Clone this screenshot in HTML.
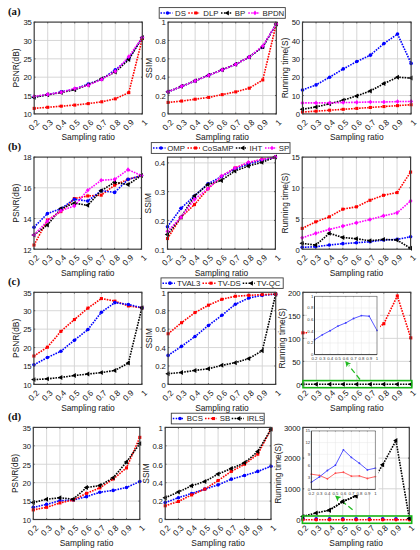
<!DOCTYPE html><html><head><meta charset="utf-8"><style>html,body{margin:0;padding:0;background:#fff;width:420px;height:550px;overflow:hidden}svg{display:block}text{font-family:"Liberation Sans", sans-serif}</style></head><body>
<svg width="420" height="550" viewBox="0 0 420 550">
<rect width="420" height="550" fill="#fff"/>
<text x="8.0" y="14.9" style="font-family:'Liberation Serif',serif;font-weight:bold" font-size="10.8" fill="#111">(a)</text>
<rect x="34.2" y="22.1" width="108.10" height="91.80" fill="#fff"/>
<line x1="47.71" y1="22.1" x2="47.71" y2="113.9" stroke="#d3d3d3" stroke-width="0.9"/>
<line x1="61.23" y1="22.1" x2="61.23" y2="113.9" stroke="#d3d3d3" stroke-width="0.9"/>
<line x1="74.74" y1="22.1" x2="74.74" y2="113.9" stroke="#d3d3d3" stroke-width="0.9"/>
<line x1="88.25" y1="22.1" x2="88.25" y2="113.9" stroke="#d3d3d3" stroke-width="0.9"/>
<line x1="101.76" y1="22.1" x2="101.76" y2="113.9" stroke="#d3d3d3" stroke-width="0.9"/>
<line x1="115.28" y1="22.1" x2="115.28" y2="113.9" stroke="#d3d3d3" stroke-width="0.9"/>
<line x1="128.79" y1="22.1" x2="128.79" y2="113.9" stroke="#d3d3d3" stroke-width="0.9"/>
<line x1="34.2" y1="95.54" x2="142.3" y2="95.54" stroke="#d3d3d3" stroke-width="0.9"/>
<line x1="34.2" y1="77.18" x2="142.3" y2="77.18" stroke="#d3d3d3" stroke-width="0.9"/>
<line x1="34.2" y1="58.82" x2="142.3" y2="58.82" stroke="#d3d3d3" stroke-width="0.9"/>
<line x1="34.2" y1="40.46" x2="142.3" y2="40.46" stroke="#d3d3d3" stroke-width="0.9"/>
<clipPath id="c34_22"><rect x="31.200000000000003" y="19.1" width="114.10" height="97.80"/></clipPath>
<g clip-path="url(#c34_22)">
<polyline points="34.20,97.01 47.71,94.44 61.23,91.87 74.74,88.93 88.25,84.16 101.76,79.02 115.28,69.84 128.79,58.82 142.30,37.52" fill="none" stroke="#0000ff" stroke-width="1.6" stroke-dasharray="1.6 1.1"/>
<polyline points="34.20,108.39 47.71,107.29 61.23,106.19 74.74,105.09 88.25,103.62 101.76,101.78 115.28,98.84 128.79,92.60 142.30,38.62" fill="none" stroke="#ff0000" stroke-width="1.6" stroke-dasharray="1.6 1.1"/>
<polyline points="34.20,97.38 47.71,94.81 61.23,92.60 74.74,89.66 88.25,84.89 101.76,78.65 115.28,72.04 128.79,59.55 142.30,37.52" fill="none" stroke="#000000" stroke-width="1.6" stroke-dasharray="1.6 1.1"/>
<polyline points="34.20,96.27 47.71,94.44 61.23,92.24 74.74,88.56 88.25,85.26 101.76,79.38 115.28,71.30 128.79,56.62 142.30,37.52" fill="none" stroke="#ff00ff" stroke-width="1.6" stroke-dasharray="1.6 1.1"/>
<circle cx="34.20" cy="97.01" r="1.80" fill="#0000ff"/>
<circle cx="47.71" cy="94.44" r="1.80" fill="#0000ff"/>
<circle cx="61.23" cy="91.87" r="1.80" fill="#0000ff"/>
<circle cx="74.74" cy="88.93" r="1.80" fill="#0000ff"/>
<circle cx="88.25" cy="84.16" r="1.80" fill="#0000ff"/>
<circle cx="101.76" cy="79.02" r="1.80" fill="#0000ff"/>
<circle cx="115.28" cy="69.84" r="1.80" fill="#0000ff"/>
<circle cx="128.79" cy="58.82" r="1.80" fill="#0000ff"/>
<circle cx="142.30" cy="37.52" r="1.80" fill="#0000ff"/>
<rect x="32.67" y="106.86" width="3.06" height="3.06" fill="#ff0000"/>
<rect x="46.18" y="105.76" width="3.06" height="3.06" fill="#ff0000"/>
<rect x="59.70" y="104.66" width="3.06" height="3.06" fill="#ff0000"/>
<rect x="73.21" y="103.56" width="3.06" height="3.06" fill="#ff0000"/>
<rect x="86.72" y="102.09" width="3.06" height="3.06" fill="#ff0000"/>
<rect x="100.23" y="100.25" width="3.06" height="3.06" fill="#ff0000"/>
<rect x="113.75" y="97.31" width="3.06" height="3.06" fill="#ff0000"/>
<rect x="127.26" y="91.07" width="3.06" height="3.06" fill="#ff0000"/>
<rect x="140.77" y="37.09" width="3.06" height="3.06" fill="#ff0000"/>
<path d="M31.39,97.38L35.60,94.89L35.60,99.86Z" fill="#000000"/>
<path d="M44.90,94.81L49.12,92.32L49.12,97.29Z" fill="#000000"/>
<path d="M58.42,92.60L62.63,90.12L62.63,95.09Z" fill="#000000"/>
<path d="M71.93,89.66L76.14,87.18L76.14,92.15Z" fill="#000000"/>
<path d="M85.44,84.89L89.65,82.41L89.65,87.38Z" fill="#000000"/>
<path d="M98.95,78.65L103.17,76.16L103.17,81.13Z" fill="#000000"/>
<path d="M112.47,72.04L116.68,69.56L116.68,74.52Z" fill="#000000"/>
<path d="M125.98,59.55L130.19,57.07L130.19,62.04Z" fill="#000000"/>
<path d="M139.49,37.52L143.70,35.04L143.70,40.01Z" fill="#000000"/>
<path d="M34.20,93.93L36.18,96.27L34.20,98.61L32.22,96.27Z" fill="#ff00ff"/>
<path d="M47.71,92.10L49.69,94.44L47.71,96.78L45.73,94.44Z" fill="#ff00ff"/>
<path d="M61.23,89.90L63.21,92.24L61.23,94.58L59.25,92.24Z" fill="#ff00ff"/>
<path d="M74.74,86.22L76.72,88.56L74.74,90.90L72.76,88.56Z" fill="#ff00ff"/>
<path d="M88.25,82.92L90.23,85.26L88.25,87.60L86.27,85.26Z" fill="#ff00ff"/>
<path d="M101.76,77.04L103.74,79.38L101.76,81.72L99.78,79.38Z" fill="#ff00ff"/>
<path d="M115.28,68.96L117.26,71.30L115.28,73.64L113.30,71.30Z" fill="#ff00ff"/>
<path d="M128.79,54.28L130.77,56.62L128.79,58.96L126.81,56.62Z" fill="#ff00ff"/>
<path d="M142.30,35.18L144.28,37.52L142.30,39.86L140.32,37.52Z" fill="#ff00ff"/>
</g>
<rect x="34.2" y="22.1" width="108.10" height="91.80" fill="none" stroke="#3c3c3c" stroke-width="1.2"/>
<line x1="34.20" y1="113.9" x2="34.20" y2="112.60000000000001" stroke="#3c3c3c" stroke-width="0.8"/>
<line x1="34.20" y1="22.1" x2="34.20" y2="23.400000000000002" stroke="#3c3c3c" stroke-width="0.8"/>
<line x1="47.71" y1="113.9" x2="47.71" y2="112.60000000000001" stroke="#3c3c3c" stroke-width="0.8"/>
<line x1="47.71" y1="22.1" x2="47.71" y2="23.400000000000002" stroke="#3c3c3c" stroke-width="0.8"/>
<line x1="61.23" y1="113.9" x2="61.23" y2="112.60000000000001" stroke="#3c3c3c" stroke-width="0.8"/>
<line x1="61.23" y1="22.1" x2="61.23" y2="23.400000000000002" stroke="#3c3c3c" stroke-width="0.8"/>
<line x1="74.74" y1="113.9" x2="74.74" y2="112.60000000000001" stroke="#3c3c3c" stroke-width="0.8"/>
<line x1="74.74" y1="22.1" x2="74.74" y2="23.400000000000002" stroke="#3c3c3c" stroke-width="0.8"/>
<line x1="88.25" y1="113.9" x2="88.25" y2="112.60000000000001" stroke="#3c3c3c" stroke-width="0.8"/>
<line x1="88.25" y1="22.1" x2="88.25" y2="23.400000000000002" stroke="#3c3c3c" stroke-width="0.8"/>
<line x1="101.76" y1="113.9" x2="101.76" y2="112.60000000000001" stroke="#3c3c3c" stroke-width="0.8"/>
<line x1="101.76" y1="22.1" x2="101.76" y2="23.400000000000002" stroke="#3c3c3c" stroke-width="0.8"/>
<line x1="115.28" y1="113.9" x2="115.28" y2="112.60000000000001" stroke="#3c3c3c" stroke-width="0.8"/>
<line x1="115.28" y1="22.1" x2="115.28" y2="23.400000000000002" stroke="#3c3c3c" stroke-width="0.8"/>
<line x1="128.79" y1="113.9" x2="128.79" y2="112.60000000000001" stroke="#3c3c3c" stroke-width="0.8"/>
<line x1="128.79" y1="22.1" x2="128.79" y2="23.400000000000002" stroke="#3c3c3c" stroke-width="0.8"/>
<line x1="142.30" y1="113.9" x2="142.30" y2="112.60000000000001" stroke="#3c3c3c" stroke-width="0.8"/>
<line x1="142.30" y1="22.1" x2="142.30" y2="23.400000000000002" stroke="#3c3c3c" stroke-width="0.8"/>
<line x1="34.2" y1="113.90" x2="35.5" y2="113.90" stroke="#3c3c3c" stroke-width="0.8"/>
<line x1="142.3" y1="113.90" x2="141.0" y2="113.90" stroke="#3c3c3c" stroke-width="0.8"/>
<line x1="34.2" y1="95.54" x2="35.5" y2="95.54" stroke="#3c3c3c" stroke-width="0.8"/>
<line x1="142.3" y1="95.54" x2="141.0" y2="95.54" stroke="#3c3c3c" stroke-width="0.8"/>
<line x1="34.2" y1="77.18" x2="35.5" y2="77.18" stroke="#3c3c3c" stroke-width="0.8"/>
<line x1="142.3" y1="77.18" x2="141.0" y2="77.18" stroke="#3c3c3c" stroke-width="0.8"/>
<line x1="34.2" y1="58.82" x2="35.5" y2="58.82" stroke="#3c3c3c" stroke-width="0.8"/>
<line x1="142.3" y1="58.82" x2="141.0" y2="58.82" stroke="#3c3c3c" stroke-width="0.8"/>
<line x1="34.2" y1="40.46" x2="35.5" y2="40.46" stroke="#3c3c3c" stroke-width="0.8"/>
<line x1="142.3" y1="40.46" x2="141.0" y2="40.46" stroke="#3c3c3c" stroke-width="0.8"/>
<line x1="34.2" y1="22.10" x2="35.5" y2="22.10" stroke="#3c3c3c" stroke-width="0.8"/>
<line x1="142.3" y1="22.10" x2="141.0" y2="22.10" stroke="#3c3c3c" stroke-width="0.8"/>
<text x="31.70" y="117.20" text-anchor="end" font-size="7.7" letter-spacing="-0.15" fill="#161616">10</text>
<text x="31.70" y="98.84" text-anchor="end" font-size="7.7" letter-spacing="-0.15" fill="#161616">15</text>
<text x="31.70" y="80.48" text-anchor="end" font-size="7.7" letter-spacing="-0.15" fill="#161616">20</text>
<text x="31.70" y="62.12" text-anchor="end" font-size="7.7" letter-spacing="-0.15" fill="#161616">25</text>
<text x="31.70" y="43.76" text-anchor="end" font-size="7.7" letter-spacing="-0.15" fill="#161616">30</text>
<text x="31.70" y="25.40" text-anchor="end" font-size="7.7" letter-spacing="-0.15" fill="#161616">35</text>
<text transform="translate(40.00,122.90) rotate(-45)" text-anchor="end" font-size="8.2" fill="#161616">0.2</text>
<text transform="translate(53.51,122.90) rotate(-45)" text-anchor="end" font-size="8.2" fill="#161616">0.3</text>
<text transform="translate(67.03,122.90) rotate(-45)" text-anchor="end" font-size="8.2" fill="#161616">0.4</text>
<text transform="translate(80.54,122.90) rotate(-45)" text-anchor="end" font-size="8.2" fill="#161616">0.5</text>
<text transform="translate(94.05,122.90) rotate(-45)" text-anchor="end" font-size="8.2" fill="#161616">0.6</text>
<text transform="translate(107.56,122.90) rotate(-45)" text-anchor="end" font-size="8.2" fill="#161616">0.7</text>
<text transform="translate(121.08,122.90) rotate(-45)" text-anchor="end" font-size="8.2" fill="#161616">0.8</text>
<text transform="translate(134.59,122.90) rotate(-45)" text-anchor="end" font-size="8.2" fill="#161616">0.9</text>
<text transform="translate(148.10,122.90) rotate(-45)" text-anchor="end" font-size="8.2" fill="#161616">1</text>
<text x="88.25" y="140.30" text-anchor="middle" font-size="8.4" fill="#161616">Sampling ratio</text>
<text transform="translate(19.10,68.00) rotate(-90)" text-anchor="middle" font-size="8.4" fill="#161616">PSNR(dB)</text>
<rect x="168.1" y="22.1" width="108.20" height="91.80" fill="#fff"/>
<line x1="181.62" y1="22.1" x2="181.62" y2="113.9" stroke="#d3d3d3" stroke-width="0.9"/>
<line x1="195.15" y1="22.1" x2="195.15" y2="113.9" stroke="#d3d3d3" stroke-width="0.9"/>
<line x1="208.68" y1="22.1" x2="208.68" y2="113.9" stroke="#d3d3d3" stroke-width="0.9"/>
<line x1="222.20" y1="22.1" x2="222.20" y2="113.9" stroke="#d3d3d3" stroke-width="0.9"/>
<line x1="235.72" y1="22.1" x2="235.72" y2="113.9" stroke="#d3d3d3" stroke-width="0.9"/>
<line x1="249.25" y1="22.1" x2="249.25" y2="113.9" stroke="#d3d3d3" stroke-width="0.9"/>
<line x1="262.77" y1="22.1" x2="262.77" y2="113.9" stroke="#d3d3d3" stroke-width="0.9"/>
<line x1="168.1" y1="95.54" x2="276.3" y2="95.54" stroke="#d3d3d3" stroke-width="0.9"/>
<line x1="168.1" y1="77.18" x2="276.3" y2="77.18" stroke="#d3d3d3" stroke-width="0.9"/>
<line x1="168.1" y1="58.82" x2="276.3" y2="58.82" stroke="#d3d3d3" stroke-width="0.9"/>
<line x1="168.1" y1="40.46" x2="276.3" y2="40.46" stroke="#d3d3d3" stroke-width="0.9"/>
<clipPath id="c168_22"><rect x="165.1" y="19.1" width="114.20" height="97.80"/></clipPath>
<g clip-path="url(#c168_22)">
<polyline points="168.10,91.87 181.62,86.36 195.15,80.85 208.68,75.34 222.20,69.84 235.72,64.33 249.25,56.98 262.77,46.89 276.30,23.94" fill="none" stroke="#0000ff" stroke-width="1.6" stroke-dasharray="1.6 1.1"/>
<polyline points="168.10,102.43 181.62,101.05 195.15,99.21 208.68,97.38 222.20,94.62 235.72,91.87 249.25,88.20 262.77,79.93 276.30,23.94" fill="none" stroke="#ff0000" stroke-width="1.6" stroke-dasharray="1.6 1.1"/>
<polyline points="168.10,91.87 181.62,86.36 195.15,80.85 208.68,75.34 222.20,69.84 235.72,64.33 249.25,56.98 262.77,46.89 276.30,23.94" fill="none" stroke="#000000" stroke-width="1.6" stroke-dasharray="1.6 1.1"/>
<polyline points="168.10,91.87 181.62,86.36 195.15,80.85 208.68,75.34 222.20,69.84 235.72,64.33 249.25,56.98 262.77,45.97 276.30,23.94" fill="none" stroke="#ff00ff" stroke-width="1.6" stroke-dasharray="1.6 1.1"/>
<circle cx="168.10" cy="91.87" r="1.80" fill="#0000ff"/>
<circle cx="181.62" cy="86.36" r="1.80" fill="#0000ff"/>
<circle cx="195.15" cy="80.85" r="1.80" fill="#0000ff"/>
<circle cx="208.68" cy="75.34" r="1.80" fill="#0000ff"/>
<circle cx="222.20" cy="69.84" r="1.80" fill="#0000ff"/>
<circle cx="235.72" cy="64.33" r="1.80" fill="#0000ff"/>
<circle cx="249.25" cy="56.98" r="1.80" fill="#0000ff"/>
<circle cx="262.77" cy="46.89" r="1.80" fill="#0000ff"/>
<circle cx="276.30" cy="23.94" r="1.80" fill="#0000ff"/>
<rect x="166.57" y="100.90" width="3.06" height="3.06" fill="#ff0000"/>
<rect x="180.09" y="99.52" width="3.06" height="3.06" fill="#ff0000"/>
<rect x="193.62" y="97.68" width="3.06" height="3.06" fill="#ff0000"/>
<rect x="207.15" y="95.85" width="3.06" height="3.06" fill="#ff0000"/>
<rect x="220.67" y="93.09" width="3.06" height="3.06" fill="#ff0000"/>
<rect x="234.19" y="90.34" width="3.06" height="3.06" fill="#ff0000"/>
<rect x="247.72" y="86.67" width="3.06" height="3.06" fill="#ff0000"/>
<rect x="261.25" y="78.40" width="3.06" height="3.06" fill="#ff0000"/>
<rect x="274.77" y="22.41" width="3.06" height="3.06" fill="#ff0000"/>
<path d="M165.29,91.87L169.50,89.38L169.50,94.35Z" fill="#000000"/>
<path d="M178.82,86.36L183.03,83.88L183.03,88.84Z" fill="#000000"/>
<path d="M192.34,80.85L196.55,78.37L196.55,83.34Z" fill="#000000"/>
<path d="M205.87,75.34L210.08,72.86L210.08,77.83Z" fill="#000000"/>
<path d="M219.39,69.84L223.60,67.35L223.60,72.32Z" fill="#000000"/>
<path d="M232.92,64.33L237.13,61.84L237.13,66.81Z" fill="#000000"/>
<path d="M246.44,56.98L250.65,54.50L250.65,59.47Z" fill="#000000"/>
<path d="M259.97,46.89L264.18,44.40L264.18,49.37Z" fill="#000000"/>
<path d="M273.49,23.94L277.70,21.45L277.70,26.42Z" fill="#000000"/>
<path d="M168.10,89.53L170.08,91.87L168.10,94.21L166.12,91.87Z" fill="#ff00ff"/>
<path d="M181.62,84.02L183.60,86.36L181.62,88.70L179.65,86.36Z" fill="#ff00ff"/>
<path d="M195.15,78.51L197.13,80.85L195.15,83.19L193.17,80.85Z" fill="#ff00ff"/>
<path d="M208.68,73.00L210.66,75.34L208.68,77.68L206.70,75.34Z" fill="#ff00ff"/>
<path d="M222.20,67.50L224.18,69.84L222.20,72.18L220.22,69.84Z" fill="#ff00ff"/>
<path d="M235.72,61.99L237.70,64.33L235.72,66.67L233.75,64.33Z" fill="#ff00ff"/>
<path d="M249.25,54.64L251.23,56.98L249.25,59.32L247.27,56.98Z" fill="#ff00ff"/>
<path d="M262.77,43.63L264.75,45.97L262.77,48.31L260.79,45.97Z" fill="#ff00ff"/>
<path d="M276.30,21.60L278.28,23.94L276.30,26.28L274.32,23.94Z" fill="#ff00ff"/>
</g>
<rect x="168.1" y="22.1" width="108.20" height="91.80" fill="none" stroke="#3c3c3c" stroke-width="1.2"/>
<line x1="168.10" y1="113.9" x2="168.10" y2="112.60000000000001" stroke="#3c3c3c" stroke-width="0.8"/>
<line x1="168.10" y1="22.1" x2="168.10" y2="23.400000000000002" stroke="#3c3c3c" stroke-width="0.8"/>
<line x1="181.62" y1="113.9" x2="181.62" y2="112.60000000000001" stroke="#3c3c3c" stroke-width="0.8"/>
<line x1="181.62" y1="22.1" x2="181.62" y2="23.400000000000002" stroke="#3c3c3c" stroke-width="0.8"/>
<line x1="195.15" y1="113.9" x2="195.15" y2="112.60000000000001" stroke="#3c3c3c" stroke-width="0.8"/>
<line x1="195.15" y1="22.1" x2="195.15" y2="23.400000000000002" stroke="#3c3c3c" stroke-width="0.8"/>
<line x1="208.68" y1="113.9" x2="208.68" y2="112.60000000000001" stroke="#3c3c3c" stroke-width="0.8"/>
<line x1="208.68" y1="22.1" x2="208.68" y2="23.400000000000002" stroke="#3c3c3c" stroke-width="0.8"/>
<line x1="222.20" y1="113.9" x2="222.20" y2="112.60000000000001" stroke="#3c3c3c" stroke-width="0.8"/>
<line x1="222.20" y1="22.1" x2="222.20" y2="23.400000000000002" stroke="#3c3c3c" stroke-width="0.8"/>
<line x1="235.72" y1="113.9" x2="235.72" y2="112.60000000000001" stroke="#3c3c3c" stroke-width="0.8"/>
<line x1="235.72" y1="22.1" x2="235.72" y2="23.400000000000002" stroke="#3c3c3c" stroke-width="0.8"/>
<line x1="249.25" y1="113.9" x2="249.25" y2="112.60000000000001" stroke="#3c3c3c" stroke-width="0.8"/>
<line x1="249.25" y1="22.1" x2="249.25" y2="23.400000000000002" stroke="#3c3c3c" stroke-width="0.8"/>
<line x1="262.77" y1="113.9" x2="262.77" y2="112.60000000000001" stroke="#3c3c3c" stroke-width="0.8"/>
<line x1="262.77" y1="22.1" x2="262.77" y2="23.400000000000002" stroke="#3c3c3c" stroke-width="0.8"/>
<line x1="276.30" y1="113.9" x2="276.30" y2="112.60000000000001" stroke="#3c3c3c" stroke-width="0.8"/>
<line x1="276.30" y1="22.1" x2="276.30" y2="23.400000000000002" stroke="#3c3c3c" stroke-width="0.8"/>
<line x1="168.1" y1="113.90" x2="169.4" y2="113.90" stroke="#3c3c3c" stroke-width="0.8"/>
<line x1="276.3" y1="113.90" x2="275.0" y2="113.90" stroke="#3c3c3c" stroke-width="0.8"/>
<line x1="168.1" y1="95.54" x2="169.4" y2="95.54" stroke="#3c3c3c" stroke-width="0.8"/>
<line x1="276.3" y1="95.54" x2="275.0" y2="95.54" stroke="#3c3c3c" stroke-width="0.8"/>
<line x1="168.1" y1="77.18" x2="169.4" y2="77.18" stroke="#3c3c3c" stroke-width="0.8"/>
<line x1="276.3" y1="77.18" x2="275.0" y2="77.18" stroke="#3c3c3c" stroke-width="0.8"/>
<line x1="168.1" y1="58.82" x2="169.4" y2="58.82" stroke="#3c3c3c" stroke-width="0.8"/>
<line x1="276.3" y1="58.82" x2="275.0" y2="58.82" stroke="#3c3c3c" stroke-width="0.8"/>
<line x1="168.1" y1="40.46" x2="169.4" y2="40.46" stroke="#3c3c3c" stroke-width="0.8"/>
<line x1="276.3" y1="40.46" x2="275.0" y2="40.46" stroke="#3c3c3c" stroke-width="0.8"/>
<line x1="168.1" y1="22.10" x2="169.4" y2="22.10" stroke="#3c3c3c" stroke-width="0.8"/>
<line x1="276.3" y1="22.10" x2="275.0" y2="22.10" stroke="#3c3c3c" stroke-width="0.8"/>
<text x="165.60" y="117.20" text-anchor="end" font-size="7.7" letter-spacing="-0.15" fill="#161616">0</text>
<text x="165.60" y="98.84" text-anchor="end" font-size="7.7" letter-spacing="-0.15" fill="#161616">0.2</text>
<text x="165.60" y="80.48" text-anchor="end" font-size="7.7" letter-spacing="-0.15" fill="#161616">0.4</text>
<text x="165.60" y="62.12" text-anchor="end" font-size="7.7" letter-spacing="-0.15" fill="#161616">0.6</text>
<text x="165.60" y="43.76" text-anchor="end" font-size="7.7" letter-spacing="-0.15" fill="#161616">0.8</text>
<text x="165.60" y="25.40" text-anchor="end" font-size="7.7" letter-spacing="-0.15" fill="#161616">1</text>
<text transform="translate(173.90,122.90) rotate(-45)" text-anchor="end" font-size="8.2" fill="#161616">0.2</text>
<text transform="translate(187.43,122.90) rotate(-45)" text-anchor="end" font-size="8.2" fill="#161616">0.3</text>
<text transform="translate(200.95,122.90) rotate(-45)" text-anchor="end" font-size="8.2" fill="#161616">0.4</text>
<text transform="translate(214.48,122.90) rotate(-45)" text-anchor="end" font-size="8.2" fill="#161616">0.5</text>
<text transform="translate(228.00,122.90) rotate(-45)" text-anchor="end" font-size="8.2" fill="#161616">0.6</text>
<text transform="translate(241.53,122.90) rotate(-45)" text-anchor="end" font-size="8.2" fill="#161616">0.7</text>
<text transform="translate(255.05,122.90) rotate(-45)" text-anchor="end" font-size="8.2" fill="#161616">0.8</text>
<text transform="translate(268.57,122.90) rotate(-45)" text-anchor="end" font-size="8.2" fill="#161616">0.9</text>
<text transform="translate(282.10,122.90) rotate(-45)" text-anchor="end" font-size="8.2" fill="#161616">1</text>
<text x="222.20" y="140.30" text-anchor="middle" font-size="8.4" fill="#161616">Sampling ratio</text>
<text transform="translate(151.60,68.00) rotate(-90)" text-anchor="middle" font-size="8.4" fill="#161616">SSIM</text>
<rect x="302.5" y="22.1" width="108.60" height="91.80" fill="#fff"/>
<line x1="316.07" y1="22.1" x2="316.07" y2="113.9" stroke="#d3d3d3" stroke-width="0.9"/>
<line x1="329.65" y1="22.1" x2="329.65" y2="113.9" stroke="#d3d3d3" stroke-width="0.9"/>
<line x1="343.23" y1="22.1" x2="343.23" y2="113.9" stroke="#d3d3d3" stroke-width="0.9"/>
<line x1="356.80" y1="22.1" x2="356.80" y2="113.9" stroke="#d3d3d3" stroke-width="0.9"/>
<line x1="370.38" y1="22.1" x2="370.38" y2="113.9" stroke="#d3d3d3" stroke-width="0.9"/>
<line x1="383.95" y1="22.1" x2="383.95" y2="113.9" stroke="#d3d3d3" stroke-width="0.9"/>
<line x1="397.52" y1="22.1" x2="397.52" y2="113.9" stroke="#d3d3d3" stroke-width="0.9"/>
<line x1="302.5" y1="95.54" x2="411.1" y2="95.54" stroke="#d3d3d3" stroke-width="0.9"/>
<line x1="302.5" y1="77.18" x2="411.1" y2="77.18" stroke="#d3d3d3" stroke-width="0.9"/>
<line x1="302.5" y1="58.82" x2="411.1" y2="58.82" stroke="#d3d3d3" stroke-width="0.9"/>
<line x1="302.5" y1="40.46" x2="411.1" y2="40.46" stroke="#d3d3d3" stroke-width="0.9"/>
<clipPath id="c302_22"><rect x="299.5" y="19.1" width="114.60" height="97.80"/></clipPath>
<g clip-path="url(#c302_22)">
<polyline points="302.50,90.03 316.07,84.89 329.65,77.18 343.23,68.92 356.80,61.57 370.38,55.15 383.95,43.58 397.52,34.03 411.10,63.41" fill="none" stroke="#0000ff" stroke-width="1.6" stroke-dasharray="1.6 1.1"/>
<polyline points="302.50,112.06 316.07,111.15 329.65,110.23 343.23,109.31 356.80,108.39 370.38,107.47 383.95,106.56 397.52,105.64 411.10,104.72" fill="none" stroke="#ff0000" stroke-width="1.6" stroke-dasharray="1.6 1.1"/>
<polyline points="302.50,109.31 316.07,106.92 329.65,103.80 343.23,100.13 356.80,95.91 370.38,90.95 383.95,83.61 397.52,77.18 411.10,78.10" fill="none" stroke="#000000" stroke-width="1.6" stroke-dasharray="1.6 1.1"/>
<polyline points="302.50,102.88 316.07,102.88 329.65,102.88 343.23,102.52 356.80,102.33 370.38,101.97 383.95,101.97 397.52,101.60 411.10,101.42" fill="none" stroke="#ff00ff" stroke-width="1.6" stroke-dasharray="1.6 1.1"/>
<circle cx="302.50" cy="90.03" r="1.80" fill="#0000ff"/>
<circle cx="316.07" cy="84.89" r="1.80" fill="#0000ff"/>
<circle cx="329.65" cy="77.18" r="1.80" fill="#0000ff"/>
<circle cx="343.23" cy="68.92" r="1.80" fill="#0000ff"/>
<circle cx="356.80" cy="61.57" r="1.80" fill="#0000ff"/>
<circle cx="370.38" cy="55.15" r="1.80" fill="#0000ff"/>
<circle cx="383.95" cy="43.58" r="1.80" fill="#0000ff"/>
<circle cx="397.52" cy="34.03" r="1.80" fill="#0000ff"/>
<circle cx="411.10" cy="63.41" r="1.80" fill="#0000ff"/>
<rect x="300.97" y="110.53" width="3.06" height="3.06" fill="#ff0000"/>
<rect x="314.55" y="109.62" width="3.06" height="3.06" fill="#ff0000"/>
<rect x="328.12" y="108.70" width="3.06" height="3.06" fill="#ff0000"/>
<rect x="341.70" y="107.78" width="3.06" height="3.06" fill="#ff0000"/>
<rect x="355.27" y="106.86" width="3.06" height="3.06" fill="#ff0000"/>
<rect x="368.85" y="105.94" width="3.06" height="3.06" fill="#ff0000"/>
<rect x="382.42" y="105.03" width="3.06" height="3.06" fill="#ff0000"/>
<rect x="396.00" y="104.11" width="3.06" height="3.06" fill="#ff0000"/>
<rect x="409.57" y="103.19" width="3.06" height="3.06" fill="#ff0000"/>
<path d="M299.69,109.31L303.90,106.83L303.90,111.79Z" fill="#000000"/>
<path d="M313.27,106.92L317.48,104.44L317.48,109.41Z" fill="#000000"/>
<path d="M326.84,103.80L331.05,101.32L331.05,106.29Z" fill="#000000"/>
<path d="M340.42,100.13L344.63,97.65L344.63,102.61Z" fill="#000000"/>
<path d="M353.99,95.91L358.20,93.42L358.20,98.39Z" fill="#000000"/>
<path d="M367.57,90.95L371.78,88.47L371.78,93.43Z" fill="#000000"/>
<path d="M381.14,83.61L385.35,81.12L385.35,86.09Z" fill="#000000"/>
<path d="M394.72,77.18L398.93,74.70L398.93,79.66Z" fill="#000000"/>
<path d="M408.29,78.10L412.50,75.61L412.50,80.58Z" fill="#000000"/>
<path d="M302.50,100.54L304.48,102.88L302.50,105.22L300.52,102.88Z" fill="#ff00ff"/>
<path d="M316.07,100.54L318.06,102.88L316.07,105.22L314.09,102.88Z" fill="#ff00ff"/>
<path d="M329.65,100.54L331.63,102.88L329.65,105.22L327.67,102.88Z" fill="#ff00ff"/>
<path d="M343.23,100.18L345.21,102.52L343.23,104.86L341.25,102.52Z" fill="#ff00ff"/>
<path d="M356.80,99.99L358.78,102.33L356.80,104.67L354.82,102.33Z" fill="#ff00ff"/>
<path d="M370.38,99.63L372.36,101.97L370.38,104.31L368.39,101.97Z" fill="#ff00ff"/>
<path d="M383.95,99.63L385.93,101.97L383.95,104.31L381.97,101.97Z" fill="#ff00ff"/>
<path d="M397.52,99.26L399.50,101.60L397.52,103.94L395.54,101.60Z" fill="#ff00ff"/>
<path d="M411.10,99.08L413.08,101.42L411.10,103.76L409.12,101.42Z" fill="#ff00ff"/>
</g>
<rect x="302.5" y="22.1" width="108.60" height="91.80" fill="none" stroke="#3c3c3c" stroke-width="1.2"/>
<line x1="302.50" y1="113.9" x2="302.50" y2="112.60000000000001" stroke="#3c3c3c" stroke-width="0.8"/>
<line x1="302.50" y1="22.1" x2="302.50" y2="23.400000000000002" stroke="#3c3c3c" stroke-width="0.8"/>
<line x1="316.07" y1="113.9" x2="316.07" y2="112.60000000000001" stroke="#3c3c3c" stroke-width="0.8"/>
<line x1="316.07" y1="22.1" x2="316.07" y2="23.400000000000002" stroke="#3c3c3c" stroke-width="0.8"/>
<line x1="329.65" y1="113.9" x2="329.65" y2="112.60000000000001" stroke="#3c3c3c" stroke-width="0.8"/>
<line x1="329.65" y1="22.1" x2="329.65" y2="23.400000000000002" stroke="#3c3c3c" stroke-width="0.8"/>
<line x1="343.23" y1="113.9" x2="343.23" y2="112.60000000000001" stroke="#3c3c3c" stroke-width="0.8"/>
<line x1="343.23" y1="22.1" x2="343.23" y2="23.400000000000002" stroke="#3c3c3c" stroke-width="0.8"/>
<line x1="356.80" y1="113.9" x2="356.80" y2="112.60000000000001" stroke="#3c3c3c" stroke-width="0.8"/>
<line x1="356.80" y1="22.1" x2="356.80" y2="23.400000000000002" stroke="#3c3c3c" stroke-width="0.8"/>
<line x1="370.38" y1="113.9" x2="370.38" y2="112.60000000000001" stroke="#3c3c3c" stroke-width="0.8"/>
<line x1="370.38" y1="22.1" x2="370.38" y2="23.400000000000002" stroke="#3c3c3c" stroke-width="0.8"/>
<line x1="383.95" y1="113.9" x2="383.95" y2="112.60000000000001" stroke="#3c3c3c" stroke-width="0.8"/>
<line x1="383.95" y1="22.1" x2="383.95" y2="23.400000000000002" stroke="#3c3c3c" stroke-width="0.8"/>
<line x1="397.52" y1="113.9" x2="397.52" y2="112.60000000000001" stroke="#3c3c3c" stroke-width="0.8"/>
<line x1="397.52" y1="22.1" x2="397.52" y2="23.400000000000002" stroke="#3c3c3c" stroke-width="0.8"/>
<line x1="411.10" y1="113.9" x2="411.10" y2="112.60000000000001" stroke="#3c3c3c" stroke-width="0.8"/>
<line x1="411.10" y1="22.1" x2="411.10" y2="23.400000000000002" stroke="#3c3c3c" stroke-width="0.8"/>
<line x1="302.5" y1="113.90" x2="303.8" y2="113.90" stroke="#3c3c3c" stroke-width="0.8"/>
<line x1="411.1" y1="113.90" x2="409.8" y2="113.90" stroke="#3c3c3c" stroke-width="0.8"/>
<line x1="302.5" y1="95.54" x2="303.8" y2="95.54" stroke="#3c3c3c" stroke-width="0.8"/>
<line x1="411.1" y1="95.54" x2="409.8" y2="95.54" stroke="#3c3c3c" stroke-width="0.8"/>
<line x1="302.5" y1="77.18" x2="303.8" y2="77.18" stroke="#3c3c3c" stroke-width="0.8"/>
<line x1="411.1" y1="77.18" x2="409.8" y2="77.18" stroke="#3c3c3c" stroke-width="0.8"/>
<line x1="302.5" y1="58.82" x2="303.8" y2="58.82" stroke="#3c3c3c" stroke-width="0.8"/>
<line x1="411.1" y1="58.82" x2="409.8" y2="58.82" stroke="#3c3c3c" stroke-width="0.8"/>
<line x1="302.5" y1="40.46" x2="303.8" y2="40.46" stroke="#3c3c3c" stroke-width="0.8"/>
<line x1="411.1" y1="40.46" x2="409.8" y2="40.46" stroke="#3c3c3c" stroke-width="0.8"/>
<line x1="302.5" y1="22.10" x2="303.8" y2="22.10" stroke="#3c3c3c" stroke-width="0.8"/>
<line x1="411.1" y1="22.10" x2="409.8" y2="22.10" stroke="#3c3c3c" stroke-width="0.8"/>
<text x="300.00" y="117.20" text-anchor="end" font-size="7.7" letter-spacing="-0.15" fill="#161616">0</text>
<text x="300.00" y="98.84" text-anchor="end" font-size="7.7" letter-spacing="-0.15" fill="#161616">10</text>
<text x="300.00" y="80.48" text-anchor="end" font-size="7.7" letter-spacing="-0.15" fill="#161616">20</text>
<text x="300.00" y="62.12" text-anchor="end" font-size="7.7" letter-spacing="-0.15" fill="#161616">30</text>
<text x="300.00" y="43.76" text-anchor="end" font-size="7.7" letter-spacing="-0.15" fill="#161616">40</text>
<text x="300.00" y="25.40" text-anchor="end" font-size="7.7" letter-spacing="-0.15" fill="#161616">50</text>
<text transform="translate(308.30,122.90) rotate(-45)" text-anchor="end" font-size="8.2" fill="#161616">0.2</text>
<text transform="translate(321.88,122.90) rotate(-45)" text-anchor="end" font-size="8.2" fill="#161616">0.3</text>
<text transform="translate(335.45,122.90) rotate(-45)" text-anchor="end" font-size="8.2" fill="#161616">0.4</text>
<text transform="translate(349.03,122.90) rotate(-45)" text-anchor="end" font-size="8.2" fill="#161616">0.5</text>
<text transform="translate(362.60,122.90) rotate(-45)" text-anchor="end" font-size="8.2" fill="#161616">0.6</text>
<text transform="translate(376.18,122.90) rotate(-45)" text-anchor="end" font-size="8.2" fill="#161616">0.7</text>
<text transform="translate(389.75,122.90) rotate(-45)" text-anchor="end" font-size="8.2" fill="#161616">0.8</text>
<text transform="translate(403.32,122.90) rotate(-45)" text-anchor="end" font-size="8.2" fill="#161616">0.9</text>
<text transform="translate(416.90,122.90) rotate(-45)" text-anchor="end" font-size="8.2" fill="#161616">1</text>
<text x="356.80" y="140.30" text-anchor="middle" font-size="8.4" fill="#161616">Sampling ratio</text>
<text transform="translate(288.40,68.00) rotate(-90)" text-anchor="middle" font-size="8.4" fill="#161616">Running time(S)</text>
<rect x="159.2" y="7.6" width="126.10" height="10.70" fill="#fff" stroke="#3c3c3c" stroke-width="0.9"/>
<line x1="160.5" y1="12.95" x2="172.5" y2="12.95" stroke="#0000ff" stroke-width="1.5" stroke-dasharray="1.5 1.4"/>
<circle cx="167.50" cy="12.95" r="1.80" fill="#0000ff"/>
<text x="175" y="15.75" font-size="7.8" fill="#1a1a1a">DS</text>
<line x1="188.3" y1="12.95" x2="200.0" y2="12.95" stroke="#ff0000" stroke-width="1.5" stroke-dasharray="1.5 1.4"/>
<rect x="194.27" y="11.42" width="3.06" height="3.06" fill="#ff0000"/>
<text x="203.3" y="15.75" font-size="7.8" fill="#1a1a1a">DLP</text>
<line x1="221.0" y1="12.95" x2="232.5" y2="12.95" stroke="#000000" stroke-width="1.5" stroke-dasharray="1.5 1.4"/>
<path d="M224.69,12.95L228.90,10.47L228.90,15.43Z" fill="#000000"/>
<text x="234.7" y="15.75" font-size="7.8" fill="#1a1a1a">BP</text>
<line x1="248.3" y1="12.95" x2="260.0" y2="12.95" stroke="#ff00ff" stroke-width="1.5" stroke-dasharray="1.5 1.4"/>
<path d="M255.00,10.61L256.98,12.95L255.00,15.29L253.02,12.95Z" fill="#ff00ff"/>
<text x="262.5" y="15.75" font-size="7.8" fill="#1a1a1a">BPDN</text>
<text x="8.0" y="150.2" style="font-family:'Liberation Serif',serif;font-weight:bold" font-size="10.8" fill="#111">(b)</text>
<rect x="34.0" y="157.1" width="107.50" height="92.10" fill="#fff"/>
<line x1="47.44" y1="157.1" x2="47.44" y2="249.2" stroke="#d3d3d3" stroke-width="0.9"/>
<line x1="60.88" y1="157.1" x2="60.88" y2="249.2" stroke="#d3d3d3" stroke-width="0.9"/>
<line x1="74.31" y1="157.1" x2="74.31" y2="249.2" stroke="#d3d3d3" stroke-width="0.9"/>
<line x1="87.75" y1="157.1" x2="87.75" y2="249.2" stroke="#d3d3d3" stroke-width="0.9"/>
<line x1="101.19" y1="157.1" x2="101.19" y2="249.2" stroke="#d3d3d3" stroke-width="0.9"/>
<line x1="114.63" y1="157.1" x2="114.63" y2="249.2" stroke="#d3d3d3" stroke-width="0.9"/>
<line x1="128.06" y1="157.1" x2="128.06" y2="249.2" stroke="#d3d3d3" stroke-width="0.9"/>
<line x1="34.0" y1="218.50" x2="141.5" y2="218.50" stroke="#d3d3d3" stroke-width="0.9"/>
<line x1="34.0" y1="187.80" x2="141.5" y2="187.80" stroke="#d3d3d3" stroke-width="0.9"/>
<clipPath id="c34_157"><rect x="31.0" y="154.1" width="113.50" height="98.10"/></clipPath>
<g clip-path="url(#c34_157)">
<polyline points="34.00,245.06 47.44,220.03 60.88,211.59 74.31,198.54 87.75,195.94 101.19,195.17 114.63,185.19 128.06,179.36 141.50,175.52" fill="none" stroke="#ff0000" stroke-width="1.6" stroke-dasharray="1.6 1.1"/>
<polyline points="34.00,227.25 47.44,213.59 60.88,208.68 74.31,199.31 87.75,201.00 101.19,190.72 114.63,192.41 128.06,179.36 141.50,175.52" fill="none" stroke="#0000ff" stroke-width="1.6" stroke-dasharray="1.6 1.1"/>
<polyline points="34.00,234.92 47.44,224.95 60.88,208.68 74.31,203.15 87.75,205.30 101.19,190.72 114.63,182.27 128.06,184.58 141.50,175.52" fill="none" stroke="#000000" stroke-width="1.6" stroke-dasharray="1.6 1.1"/>
<polyline points="34.00,234.92 47.44,220.96 60.88,210.82 74.31,205.91 87.75,190.26 101.19,180.28 114.63,179.36 128.06,169.69 141.50,175.52" fill="none" stroke="#ff00ff" stroke-width="1.6" stroke-dasharray="1.6 1.1"/>
<rect x="32.47" y="243.53" width="3.06" height="3.06" fill="#ff0000"/>
<rect x="45.91" y="218.50" width="3.06" height="3.06" fill="#ff0000"/>
<rect x="59.34" y="210.06" width="3.06" height="3.06" fill="#ff0000"/>
<rect x="72.78" y="197.01" width="3.06" height="3.06" fill="#ff0000"/>
<rect x="86.22" y="194.41" width="3.06" height="3.06" fill="#ff0000"/>
<rect x="99.66" y="193.64" width="3.06" height="3.06" fill="#ff0000"/>
<rect x="113.10" y="183.66" width="3.06" height="3.06" fill="#ff0000"/>
<rect x="126.53" y="177.83" width="3.06" height="3.06" fill="#ff0000"/>
<rect x="139.97" y="173.99" width="3.06" height="3.06" fill="#ff0000"/>
<circle cx="34.00" cy="227.25" r="1.80" fill="#0000ff"/>
<circle cx="47.44" cy="213.59" r="1.80" fill="#0000ff"/>
<circle cx="60.88" cy="208.68" r="1.80" fill="#0000ff"/>
<circle cx="74.31" cy="199.31" r="1.80" fill="#0000ff"/>
<circle cx="87.75" cy="201.00" r="1.80" fill="#0000ff"/>
<circle cx="101.19" cy="190.72" r="1.80" fill="#0000ff"/>
<circle cx="114.63" cy="192.41" r="1.80" fill="#0000ff"/>
<circle cx="128.06" cy="179.36" r="1.80" fill="#0000ff"/>
<circle cx="141.50" cy="175.52" r="1.80" fill="#0000ff"/>
<path d="M31.19,234.92L35.40,232.44L35.40,237.41Z" fill="#000000"/>
<path d="M44.63,224.95L48.84,222.46L48.84,227.43Z" fill="#000000"/>
<path d="M58.07,208.68L62.28,206.19L62.28,211.16Z" fill="#000000"/>
<path d="M71.50,203.15L75.72,200.67L75.72,205.63Z" fill="#000000"/>
<path d="M84.94,205.30L89.15,202.81L89.15,207.78Z" fill="#000000"/>
<path d="M98.38,190.72L102.59,188.23L102.59,193.20Z" fill="#000000"/>
<path d="M111.82,182.27L116.03,179.79L116.03,184.76Z" fill="#000000"/>
<path d="M125.25,184.58L129.47,182.09L129.47,187.06Z" fill="#000000"/>
<path d="M138.69,175.52L142.90,173.04L142.90,178.00Z" fill="#000000"/>
<path d="M34.00,232.58L35.98,234.92L34.00,237.26L32.02,234.92Z" fill="#ff00ff"/>
<path d="M47.44,218.62L49.42,220.96L47.44,223.30L45.46,220.96Z" fill="#ff00ff"/>
<path d="M60.88,208.48L62.85,210.82L60.88,213.16L58.90,210.82Z" fill="#ff00ff"/>
<path d="M74.31,203.57L76.29,205.91L74.31,208.25L72.33,205.91Z" fill="#ff00ff"/>
<path d="M87.75,187.92L89.73,190.26L87.75,192.60L85.77,190.26Z" fill="#ff00ff"/>
<path d="M101.19,177.94L103.17,180.28L101.19,182.62L99.21,180.28Z" fill="#ff00ff"/>
<path d="M114.63,177.02L116.61,179.36L114.63,181.70L112.65,179.36Z" fill="#ff00ff"/>
<path d="M128.06,167.35L130.04,169.69L128.06,172.03L126.08,169.69Z" fill="#ff00ff"/>
<path d="M141.50,173.18L143.48,175.52L141.50,177.86L139.52,175.52Z" fill="#ff00ff"/>
</g>
<rect x="34.0" y="157.1" width="107.50" height="92.10" fill="none" stroke="#3c3c3c" stroke-width="1.2"/>
<line x1="34.00" y1="249.2" x2="34.00" y2="247.89999999999998" stroke="#3c3c3c" stroke-width="0.8"/>
<line x1="34.00" y1="157.1" x2="34.00" y2="158.4" stroke="#3c3c3c" stroke-width="0.8"/>
<line x1="47.44" y1="249.2" x2="47.44" y2="247.89999999999998" stroke="#3c3c3c" stroke-width="0.8"/>
<line x1="47.44" y1="157.1" x2="47.44" y2="158.4" stroke="#3c3c3c" stroke-width="0.8"/>
<line x1="60.88" y1="249.2" x2="60.88" y2="247.89999999999998" stroke="#3c3c3c" stroke-width="0.8"/>
<line x1="60.88" y1="157.1" x2="60.88" y2="158.4" stroke="#3c3c3c" stroke-width="0.8"/>
<line x1="74.31" y1="249.2" x2="74.31" y2="247.89999999999998" stroke="#3c3c3c" stroke-width="0.8"/>
<line x1="74.31" y1="157.1" x2="74.31" y2="158.4" stroke="#3c3c3c" stroke-width="0.8"/>
<line x1="87.75" y1="249.2" x2="87.75" y2="247.89999999999998" stroke="#3c3c3c" stroke-width="0.8"/>
<line x1="87.75" y1="157.1" x2="87.75" y2="158.4" stroke="#3c3c3c" stroke-width="0.8"/>
<line x1="101.19" y1="249.2" x2="101.19" y2="247.89999999999998" stroke="#3c3c3c" stroke-width="0.8"/>
<line x1="101.19" y1="157.1" x2="101.19" y2="158.4" stroke="#3c3c3c" stroke-width="0.8"/>
<line x1="114.63" y1="249.2" x2="114.63" y2="247.89999999999998" stroke="#3c3c3c" stroke-width="0.8"/>
<line x1="114.63" y1="157.1" x2="114.63" y2="158.4" stroke="#3c3c3c" stroke-width="0.8"/>
<line x1="128.06" y1="249.2" x2="128.06" y2="247.89999999999998" stroke="#3c3c3c" stroke-width="0.8"/>
<line x1="128.06" y1="157.1" x2="128.06" y2="158.4" stroke="#3c3c3c" stroke-width="0.8"/>
<line x1="141.50" y1="249.2" x2="141.50" y2="247.89999999999998" stroke="#3c3c3c" stroke-width="0.8"/>
<line x1="141.50" y1="157.1" x2="141.50" y2="158.4" stroke="#3c3c3c" stroke-width="0.8"/>
<line x1="34.0" y1="249.20" x2="35.3" y2="249.20" stroke="#3c3c3c" stroke-width="0.8"/>
<line x1="141.5" y1="249.20" x2="140.2" y2="249.20" stroke="#3c3c3c" stroke-width="0.8"/>
<line x1="34.0" y1="218.50" x2="35.3" y2="218.50" stroke="#3c3c3c" stroke-width="0.8"/>
<line x1="141.5" y1="218.50" x2="140.2" y2="218.50" stroke="#3c3c3c" stroke-width="0.8"/>
<line x1="34.0" y1="187.80" x2="35.3" y2="187.80" stroke="#3c3c3c" stroke-width="0.8"/>
<line x1="141.5" y1="187.80" x2="140.2" y2="187.80" stroke="#3c3c3c" stroke-width="0.8"/>
<line x1="34.0" y1="157.10" x2="35.3" y2="157.10" stroke="#3c3c3c" stroke-width="0.8"/>
<line x1="141.5" y1="157.10" x2="140.2" y2="157.10" stroke="#3c3c3c" stroke-width="0.8"/>
<text x="31.50" y="252.50" text-anchor="end" font-size="7.7" letter-spacing="-0.15" fill="#161616">12</text>
<text x="31.50" y="221.80" text-anchor="end" font-size="7.7" letter-spacing="-0.15" fill="#161616">14</text>
<text x="31.50" y="191.10" text-anchor="end" font-size="7.7" letter-spacing="-0.15" fill="#161616">16</text>
<text x="31.50" y="160.40" text-anchor="end" font-size="7.7" letter-spacing="-0.15" fill="#161616">18</text>
<text transform="translate(39.80,258.20) rotate(-45)" text-anchor="end" font-size="8.2" fill="#161616">0.2</text>
<text transform="translate(53.24,258.20) rotate(-45)" text-anchor="end" font-size="8.2" fill="#161616">0.3</text>
<text transform="translate(66.67,258.20) rotate(-45)" text-anchor="end" font-size="8.2" fill="#161616">0.4</text>
<text transform="translate(80.11,258.20) rotate(-45)" text-anchor="end" font-size="8.2" fill="#161616">0.5</text>
<text transform="translate(93.55,258.20) rotate(-45)" text-anchor="end" font-size="8.2" fill="#161616">0.6</text>
<text transform="translate(106.99,258.20) rotate(-45)" text-anchor="end" font-size="8.2" fill="#161616">0.7</text>
<text transform="translate(120.43,258.20) rotate(-45)" text-anchor="end" font-size="8.2" fill="#161616">0.8</text>
<text transform="translate(133.86,258.20) rotate(-45)" text-anchor="end" font-size="8.2" fill="#161616">0.9</text>
<text transform="translate(147.30,258.20) rotate(-45)" text-anchor="end" font-size="8.2" fill="#161616">1</text>
<text x="87.75" y="275.60" text-anchor="middle" font-size="8.4" fill="#161616">Sampling ratio</text>
<text transform="translate(18.90,203.15) rotate(-90)" text-anchor="middle" font-size="8.4" fill="#161616">PSNR(dB)</text>
<rect x="167.5" y="157.1" width="107.90" height="92.10" fill="#fff"/>
<line x1="180.99" y1="157.1" x2="180.99" y2="249.2" stroke="#d3d3d3" stroke-width="0.9"/>
<line x1="194.47" y1="157.1" x2="194.47" y2="249.2" stroke="#d3d3d3" stroke-width="0.9"/>
<line x1="207.96" y1="157.1" x2="207.96" y2="249.2" stroke="#d3d3d3" stroke-width="0.9"/>
<line x1="221.45" y1="157.1" x2="221.45" y2="249.2" stroke="#d3d3d3" stroke-width="0.9"/>
<line x1="234.94" y1="157.1" x2="234.94" y2="249.2" stroke="#d3d3d3" stroke-width="0.9"/>
<line x1="248.43" y1="157.1" x2="248.43" y2="249.2" stroke="#d3d3d3" stroke-width="0.9"/>
<line x1="261.91" y1="157.1" x2="261.91" y2="249.2" stroke="#d3d3d3" stroke-width="0.9"/>
<line x1="167.5" y1="220.42" x2="275.4" y2="220.42" stroke="#d3d3d3" stroke-width="0.9"/>
<line x1="167.5" y1="191.64" x2="275.4" y2="191.64" stroke="#d3d3d3" stroke-width="0.9"/>
<line x1="167.5" y1="162.86" x2="275.4" y2="162.86" stroke="#d3d3d3" stroke-width="0.9"/>
<clipPath id="c167_157"><rect x="164.5" y="154.1" width="113.90" height="98.10"/></clipPath>
<g clip-path="url(#c167_157)">
<polyline points="167.50,238.55 180.99,217.25 194.47,204.59 207.96,188.76 221.45,176.67 234.94,168.04 248.43,163.14 261.91,159.40 275.40,157.10" fill="none" stroke="#ff0000" stroke-width="1.6" stroke-dasharray="1.6 1.1"/>
<polyline points="167.50,226.75 180.99,208.33 194.47,195.95 207.96,183.87 221.45,176.67 234.94,168.90 248.43,164.01 261.91,160.27 275.40,157.10" fill="none" stroke="#0000ff" stroke-width="1.6" stroke-dasharray="1.6 1.1"/>
<polyline points="167.50,234.52 180.99,217.25 194.47,195.95 207.96,184.44 221.45,180.41 234.94,170.91 248.43,166.02 261.91,162.28 275.40,157.10" fill="none" stroke="#000000" stroke-width="1.6" stroke-dasharray="1.6 1.1"/>
<polyline points="167.50,231.36 180.99,217.25 194.47,199.41 207.96,188.76 221.45,176.10 234.94,168.04 248.43,162.28 261.91,159.40 275.40,157.10" fill="none" stroke="#ff00ff" stroke-width="1.6" stroke-dasharray="1.6 1.1"/>
<rect x="165.97" y="237.02" width="3.06" height="3.06" fill="#ff0000"/>
<rect x="179.46" y="215.72" width="3.06" height="3.06" fill="#ff0000"/>
<rect x="192.94" y="203.06" width="3.06" height="3.06" fill="#ff0000"/>
<rect x="206.43" y="187.23" width="3.06" height="3.06" fill="#ff0000"/>
<rect x="219.92" y="175.14" width="3.06" height="3.06" fill="#ff0000"/>
<rect x="233.41" y="166.51" width="3.06" height="3.06" fill="#ff0000"/>
<rect x="246.90" y="161.61" width="3.06" height="3.06" fill="#ff0000"/>
<rect x="260.38" y="157.87" width="3.06" height="3.06" fill="#ff0000"/>
<rect x="273.87" y="155.57" width="3.06" height="3.06" fill="#ff0000"/>
<circle cx="167.50" cy="226.75" r="1.80" fill="#0000ff"/>
<circle cx="180.99" cy="208.33" r="1.80" fill="#0000ff"/>
<circle cx="194.47" cy="195.95" r="1.80" fill="#0000ff"/>
<circle cx="207.96" cy="183.87" r="1.80" fill="#0000ff"/>
<circle cx="221.45" cy="176.67" r="1.80" fill="#0000ff"/>
<circle cx="234.94" cy="168.90" r="1.80" fill="#0000ff"/>
<circle cx="248.43" cy="164.01" r="1.80" fill="#0000ff"/>
<circle cx="261.91" cy="160.27" r="1.80" fill="#0000ff"/>
<circle cx="275.40" cy="157.10" r="1.80" fill="#0000ff"/>
<path d="M164.69,234.52L168.90,232.04L168.90,237.01Z" fill="#000000"/>
<path d="M178.18,217.25L182.39,214.77L182.39,219.74Z" fill="#000000"/>
<path d="M191.67,195.95L195.88,193.47L195.88,198.44Z" fill="#000000"/>
<path d="M205.15,184.44L209.37,181.96L209.37,186.93Z" fill="#000000"/>
<path d="M218.64,180.41L222.85,177.93L222.85,182.90Z" fill="#000000"/>
<path d="M232.13,170.91L236.34,168.43L236.34,173.40Z" fill="#000000"/>
<path d="M245.62,166.02L249.83,163.54L249.83,168.51Z" fill="#000000"/>
<path d="M259.10,162.28L263.32,159.80L263.32,164.76Z" fill="#000000"/>
<path d="M272.59,157.10L276.80,154.62L276.80,159.58Z" fill="#000000"/>
<path d="M167.50,229.02L169.48,231.36L167.50,233.70L165.52,231.36Z" fill="#ff00ff"/>
<path d="M180.99,214.91L182.97,217.25L180.99,219.59L179.01,217.25Z" fill="#ff00ff"/>
<path d="M194.47,197.07L196.45,199.41L194.47,201.75L192.50,199.41Z" fill="#ff00ff"/>
<path d="M207.96,186.42L209.94,188.76L207.96,191.10L205.98,188.76Z" fill="#ff00ff"/>
<path d="M221.45,173.76L223.43,176.10L221.45,178.44L219.47,176.10Z" fill="#ff00ff"/>
<path d="M234.94,165.70L236.92,168.04L234.94,170.38L232.96,168.04Z" fill="#ff00ff"/>
<path d="M248.43,159.94L250.41,162.28L248.43,164.62L246.45,162.28Z" fill="#ff00ff"/>
<path d="M261.91,157.06L263.89,159.40L261.91,161.74L259.93,159.40Z" fill="#ff00ff"/>
<path d="M275.40,154.76L277.38,157.10L275.40,159.44L273.42,157.10Z" fill="#ff00ff"/>
</g>
<rect x="167.5" y="157.1" width="107.90" height="92.10" fill="none" stroke="#3c3c3c" stroke-width="1.2"/>
<line x1="167.50" y1="249.2" x2="167.50" y2="247.89999999999998" stroke="#3c3c3c" stroke-width="0.8"/>
<line x1="167.50" y1="157.1" x2="167.50" y2="158.4" stroke="#3c3c3c" stroke-width="0.8"/>
<line x1="180.99" y1="249.2" x2="180.99" y2="247.89999999999998" stroke="#3c3c3c" stroke-width="0.8"/>
<line x1="180.99" y1="157.1" x2="180.99" y2="158.4" stroke="#3c3c3c" stroke-width="0.8"/>
<line x1="194.47" y1="249.2" x2="194.47" y2="247.89999999999998" stroke="#3c3c3c" stroke-width="0.8"/>
<line x1="194.47" y1="157.1" x2="194.47" y2="158.4" stroke="#3c3c3c" stroke-width="0.8"/>
<line x1="207.96" y1="249.2" x2="207.96" y2="247.89999999999998" stroke="#3c3c3c" stroke-width="0.8"/>
<line x1="207.96" y1="157.1" x2="207.96" y2="158.4" stroke="#3c3c3c" stroke-width="0.8"/>
<line x1="221.45" y1="249.2" x2="221.45" y2="247.89999999999998" stroke="#3c3c3c" stroke-width="0.8"/>
<line x1="221.45" y1="157.1" x2="221.45" y2="158.4" stroke="#3c3c3c" stroke-width="0.8"/>
<line x1="234.94" y1="249.2" x2="234.94" y2="247.89999999999998" stroke="#3c3c3c" stroke-width="0.8"/>
<line x1="234.94" y1="157.1" x2="234.94" y2="158.4" stroke="#3c3c3c" stroke-width="0.8"/>
<line x1="248.43" y1="249.2" x2="248.43" y2="247.89999999999998" stroke="#3c3c3c" stroke-width="0.8"/>
<line x1="248.43" y1="157.1" x2="248.43" y2="158.4" stroke="#3c3c3c" stroke-width="0.8"/>
<line x1="261.91" y1="249.2" x2="261.91" y2="247.89999999999998" stroke="#3c3c3c" stroke-width="0.8"/>
<line x1="261.91" y1="157.1" x2="261.91" y2="158.4" stroke="#3c3c3c" stroke-width="0.8"/>
<line x1="275.40" y1="249.2" x2="275.40" y2="247.89999999999998" stroke="#3c3c3c" stroke-width="0.8"/>
<line x1="275.40" y1="157.1" x2="275.40" y2="158.4" stroke="#3c3c3c" stroke-width="0.8"/>
<line x1="167.5" y1="249.20" x2="168.8" y2="249.20" stroke="#3c3c3c" stroke-width="0.8"/>
<line x1="275.4" y1="249.20" x2="274.09999999999997" y2="249.20" stroke="#3c3c3c" stroke-width="0.8"/>
<line x1="167.5" y1="220.42" x2="168.8" y2="220.42" stroke="#3c3c3c" stroke-width="0.8"/>
<line x1="275.4" y1="220.42" x2="274.09999999999997" y2="220.42" stroke="#3c3c3c" stroke-width="0.8"/>
<line x1="167.5" y1="191.64" x2="168.8" y2="191.64" stroke="#3c3c3c" stroke-width="0.8"/>
<line x1="275.4" y1="191.64" x2="274.09999999999997" y2="191.64" stroke="#3c3c3c" stroke-width="0.8"/>
<line x1="167.5" y1="162.86" x2="168.8" y2="162.86" stroke="#3c3c3c" stroke-width="0.8"/>
<line x1="275.4" y1="162.86" x2="274.09999999999997" y2="162.86" stroke="#3c3c3c" stroke-width="0.8"/>
<text x="165.00" y="252.50" text-anchor="end" font-size="7.7" letter-spacing="-0.15" fill="#161616">0.1</text>
<text x="165.00" y="223.72" text-anchor="end" font-size="7.7" letter-spacing="-0.15" fill="#161616">0.2</text>
<text x="165.00" y="194.94" text-anchor="end" font-size="7.7" letter-spacing="-0.15" fill="#161616">0.3</text>
<text x="165.00" y="166.16" text-anchor="end" font-size="7.7" letter-spacing="-0.15" fill="#161616">0.4</text>
<text transform="translate(173.30,258.20) rotate(-45)" text-anchor="end" font-size="8.2" fill="#161616">0.2</text>
<text transform="translate(186.79,258.20) rotate(-45)" text-anchor="end" font-size="8.2" fill="#161616">0.3</text>
<text transform="translate(200.28,258.20) rotate(-45)" text-anchor="end" font-size="8.2" fill="#161616">0.4</text>
<text transform="translate(213.76,258.20) rotate(-45)" text-anchor="end" font-size="8.2" fill="#161616">0.5</text>
<text transform="translate(227.25,258.20) rotate(-45)" text-anchor="end" font-size="8.2" fill="#161616">0.6</text>
<text transform="translate(240.74,258.20) rotate(-45)" text-anchor="end" font-size="8.2" fill="#161616">0.7</text>
<text transform="translate(254.23,258.20) rotate(-45)" text-anchor="end" font-size="8.2" fill="#161616">0.8</text>
<text transform="translate(267.71,258.20) rotate(-45)" text-anchor="end" font-size="8.2" fill="#161616">0.9</text>
<text transform="translate(281.20,258.20) rotate(-45)" text-anchor="end" font-size="8.2" fill="#161616">1</text>
<text x="221.45" y="275.60" text-anchor="middle" font-size="8.4" fill="#161616">Sampling ratio</text>
<text transform="translate(151.00,203.15) rotate(-90)" text-anchor="middle" font-size="8.4" fill="#161616">SSIM</text>
<rect x="302.2" y="157.1" width="108.40" height="92.10" fill="#fff"/>
<line x1="315.75" y1="157.1" x2="315.75" y2="249.2" stroke="#d3d3d3" stroke-width="0.9"/>
<line x1="329.30" y1="157.1" x2="329.30" y2="249.2" stroke="#d3d3d3" stroke-width="0.9"/>
<line x1="342.85" y1="157.1" x2="342.85" y2="249.2" stroke="#d3d3d3" stroke-width="0.9"/>
<line x1="356.40" y1="157.1" x2="356.40" y2="249.2" stroke="#d3d3d3" stroke-width="0.9"/>
<line x1="369.95" y1="157.1" x2="369.95" y2="249.2" stroke="#d3d3d3" stroke-width="0.9"/>
<line x1="383.50" y1="157.1" x2="383.50" y2="249.2" stroke="#d3d3d3" stroke-width="0.9"/>
<line x1="397.05" y1="157.1" x2="397.05" y2="249.2" stroke="#d3d3d3" stroke-width="0.9"/>
<line x1="302.2" y1="218.50" x2="410.6" y2="218.50" stroke="#d3d3d3" stroke-width="0.9"/>
<line x1="302.2" y1="187.80" x2="410.6" y2="187.80" stroke="#d3d3d3" stroke-width="0.9"/>
<clipPath id="c302_157"><rect x="299.2" y="154.1" width="114.40" height="98.10"/></clipPath>
<g clip-path="url(#c302_157)">
<polyline points="302.20,247.36 315.75,246.74 329.30,245.02 342.85,243.67 356.40,242.75 369.95,241.71 383.50,240.05 397.05,239.38 410.60,236.74" fill="none" stroke="#0000ff" stroke-width="1.6" stroke-dasharray="1.6 1.1"/>
<polyline points="302.20,243.37 315.75,245.02 329.30,233.36 342.85,237.41 356.40,238.76 369.95,240.73 383.50,239.38 397.05,240.05 410.60,248.28" fill="none" stroke="#000000" stroke-width="1.6" stroke-dasharray="1.6 1.1"/>
<polyline points="302.20,237.72 315.75,233.36 329.30,229.43 342.85,226.11 356.40,222.80 369.95,219.48 383.50,215.86 397.05,212.85 410.60,200.94" fill="none" stroke="#ff00ff" stroke-width="1.6" stroke-dasharray="1.6 1.1"/>
<polyline points="302.20,228.39 315.75,221.82 329.30,216.84 342.85,209.17 356.40,206.83 369.95,200.26 383.50,195.29 397.05,192.59 410.60,172.08" fill="none" stroke="#ff0000" stroke-width="1.6" stroke-dasharray="1.6 1.1"/>
<circle cx="302.20" cy="247.36" r="1.80" fill="#0000ff"/>
<circle cx="315.75" cy="246.74" r="1.80" fill="#0000ff"/>
<circle cx="329.30" cy="245.02" r="1.80" fill="#0000ff"/>
<circle cx="342.85" cy="243.67" r="1.80" fill="#0000ff"/>
<circle cx="356.40" cy="242.75" r="1.80" fill="#0000ff"/>
<circle cx="369.95" cy="241.71" r="1.80" fill="#0000ff"/>
<circle cx="383.50" cy="240.05" r="1.80" fill="#0000ff"/>
<circle cx="397.05" cy="239.38" r="1.80" fill="#0000ff"/>
<circle cx="410.60" cy="236.74" r="1.80" fill="#0000ff"/>
<path d="M299.39,243.37L303.60,240.88L303.60,245.85Z" fill="#000000"/>
<path d="M312.94,245.02L317.15,242.54L317.15,247.51Z" fill="#000000"/>
<path d="M326.49,233.36L330.70,230.87L330.70,235.84Z" fill="#000000"/>
<path d="M340.04,237.41L344.25,234.93L344.25,239.90Z" fill="#000000"/>
<path d="M353.59,238.76L357.80,236.28L357.80,241.25Z" fill="#000000"/>
<path d="M367.14,240.73L371.35,238.24L371.35,243.21Z" fill="#000000"/>
<path d="M380.69,239.38L384.90,236.89L384.90,241.86Z" fill="#000000"/>
<path d="M394.24,240.05L398.45,237.57L398.45,242.54Z" fill="#000000"/>
<path d="M407.79,248.28L412.00,245.79L412.00,250.76Z" fill="#000000"/>
<path d="M302.20,235.38L304.18,237.72L302.20,240.06L300.22,237.72Z" fill="#ff00ff"/>
<path d="M315.75,231.02L317.73,233.36L315.75,235.70L313.77,233.36Z" fill="#ff00ff"/>
<path d="M329.30,227.09L331.28,229.43L329.30,231.77L327.32,229.43Z" fill="#ff00ff"/>
<path d="M342.85,223.77L344.83,226.11L342.85,228.45L340.87,226.11Z" fill="#ff00ff"/>
<path d="M356.40,220.46L358.38,222.80L356.40,225.14L354.42,222.80Z" fill="#ff00ff"/>
<path d="M369.95,217.14L371.93,219.48L369.95,221.82L367.97,219.48Z" fill="#ff00ff"/>
<path d="M383.50,213.52L385.48,215.86L383.50,218.20L381.52,215.86Z" fill="#ff00ff"/>
<path d="M397.05,210.51L399.03,212.85L397.05,215.19L395.07,212.85Z" fill="#ff00ff"/>
<path d="M410.60,198.60L412.58,200.94L410.60,203.28L408.62,200.94Z" fill="#ff00ff"/>
<rect x="300.67" y="226.86" width="3.06" height="3.06" fill="#ff0000"/>
<rect x="314.22" y="220.29" width="3.06" height="3.06" fill="#ff0000"/>
<rect x="327.77" y="215.31" width="3.06" height="3.06" fill="#ff0000"/>
<rect x="341.32" y="207.64" width="3.06" height="3.06" fill="#ff0000"/>
<rect x="354.87" y="205.30" width="3.06" height="3.06" fill="#ff0000"/>
<rect x="368.42" y="198.73" width="3.06" height="3.06" fill="#ff0000"/>
<rect x="381.97" y="193.76" width="3.06" height="3.06" fill="#ff0000"/>
<rect x="395.52" y="191.06" width="3.06" height="3.06" fill="#ff0000"/>
<rect x="409.07" y="170.55" width="3.06" height="3.06" fill="#ff0000"/>
</g>
<rect x="302.2" y="157.1" width="108.40" height="92.10" fill="none" stroke="#3c3c3c" stroke-width="1.2"/>
<line x1="302.20" y1="249.2" x2="302.20" y2="247.89999999999998" stroke="#3c3c3c" stroke-width="0.8"/>
<line x1="302.20" y1="157.1" x2="302.20" y2="158.4" stroke="#3c3c3c" stroke-width="0.8"/>
<line x1="315.75" y1="249.2" x2="315.75" y2="247.89999999999998" stroke="#3c3c3c" stroke-width="0.8"/>
<line x1="315.75" y1="157.1" x2="315.75" y2="158.4" stroke="#3c3c3c" stroke-width="0.8"/>
<line x1="329.30" y1="249.2" x2="329.30" y2="247.89999999999998" stroke="#3c3c3c" stroke-width="0.8"/>
<line x1="329.30" y1="157.1" x2="329.30" y2="158.4" stroke="#3c3c3c" stroke-width="0.8"/>
<line x1="342.85" y1="249.2" x2="342.85" y2="247.89999999999998" stroke="#3c3c3c" stroke-width="0.8"/>
<line x1="342.85" y1="157.1" x2="342.85" y2="158.4" stroke="#3c3c3c" stroke-width="0.8"/>
<line x1="356.40" y1="249.2" x2="356.40" y2="247.89999999999998" stroke="#3c3c3c" stroke-width="0.8"/>
<line x1="356.40" y1="157.1" x2="356.40" y2="158.4" stroke="#3c3c3c" stroke-width="0.8"/>
<line x1="369.95" y1="249.2" x2="369.95" y2="247.89999999999998" stroke="#3c3c3c" stroke-width="0.8"/>
<line x1="369.95" y1="157.1" x2="369.95" y2="158.4" stroke="#3c3c3c" stroke-width="0.8"/>
<line x1="383.50" y1="249.2" x2="383.50" y2="247.89999999999998" stroke="#3c3c3c" stroke-width="0.8"/>
<line x1="383.50" y1="157.1" x2="383.50" y2="158.4" stroke="#3c3c3c" stroke-width="0.8"/>
<line x1="397.05" y1="249.2" x2="397.05" y2="247.89999999999998" stroke="#3c3c3c" stroke-width="0.8"/>
<line x1="397.05" y1="157.1" x2="397.05" y2="158.4" stroke="#3c3c3c" stroke-width="0.8"/>
<line x1="410.60" y1="249.2" x2="410.60" y2="247.89999999999998" stroke="#3c3c3c" stroke-width="0.8"/>
<line x1="410.60" y1="157.1" x2="410.60" y2="158.4" stroke="#3c3c3c" stroke-width="0.8"/>
<line x1="302.2" y1="249.20" x2="303.5" y2="249.20" stroke="#3c3c3c" stroke-width="0.8"/>
<line x1="410.6" y1="249.20" x2="409.3" y2="249.20" stroke="#3c3c3c" stroke-width="0.8"/>
<line x1="302.2" y1="218.50" x2="303.5" y2="218.50" stroke="#3c3c3c" stroke-width="0.8"/>
<line x1="410.6" y1="218.50" x2="409.3" y2="218.50" stroke="#3c3c3c" stroke-width="0.8"/>
<line x1="302.2" y1="187.80" x2="303.5" y2="187.80" stroke="#3c3c3c" stroke-width="0.8"/>
<line x1="410.6" y1="187.80" x2="409.3" y2="187.80" stroke="#3c3c3c" stroke-width="0.8"/>
<line x1="302.2" y1="157.10" x2="303.5" y2="157.10" stroke="#3c3c3c" stroke-width="0.8"/>
<line x1="410.6" y1="157.10" x2="409.3" y2="157.10" stroke="#3c3c3c" stroke-width="0.8"/>
<text x="299.70" y="252.50" text-anchor="end" font-size="7.7" letter-spacing="-0.15" fill="#161616">0</text>
<text x="299.70" y="221.80" text-anchor="end" font-size="7.7" letter-spacing="-0.15" fill="#161616">5</text>
<text x="299.70" y="191.10" text-anchor="end" font-size="7.7" letter-spacing="-0.15" fill="#161616">10</text>
<text x="299.70" y="160.40" text-anchor="end" font-size="7.7" letter-spacing="-0.15" fill="#161616">15</text>
<text transform="translate(308.00,258.20) rotate(-45)" text-anchor="end" font-size="8.2" fill="#161616">0.2</text>
<text transform="translate(321.55,258.20) rotate(-45)" text-anchor="end" font-size="8.2" fill="#161616">0.3</text>
<text transform="translate(335.10,258.20) rotate(-45)" text-anchor="end" font-size="8.2" fill="#161616">0.4</text>
<text transform="translate(348.65,258.20) rotate(-45)" text-anchor="end" font-size="8.2" fill="#161616">0.5</text>
<text transform="translate(362.20,258.20) rotate(-45)" text-anchor="end" font-size="8.2" fill="#161616">0.6</text>
<text transform="translate(375.75,258.20) rotate(-45)" text-anchor="end" font-size="8.2" fill="#161616">0.7</text>
<text transform="translate(389.30,258.20) rotate(-45)" text-anchor="end" font-size="8.2" fill="#161616">0.8</text>
<text transform="translate(402.85,258.20) rotate(-45)" text-anchor="end" font-size="8.2" fill="#161616">0.9</text>
<text transform="translate(416.40,258.20) rotate(-45)" text-anchor="end" font-size="8.2" fill="#161616">1</text>
<text x="356.40" y="275.60" text-anchor="middle" font-size="8.4" fill="#161616">Sampling ratio</text>
<text transform="translate(288.10,203.15) rotate(-90)" text-anchor="middle" font-size="8.4" fill="#161616">Running time(S)</text>
<rect x="151.3" y="142.6" width="138.70" height="10.80" fill="#fff" stroke="#3c3c3c" stroke-width="0.9"/>
<line x1="153.0" y1="148.00" x2="165.5" y2="148.00" stroke="#0000ff" stroke-width="1.5" stroke-dasharray="1.5 1.4"/>
<circle cx="161.00" cy="148.00" r="1.80" fill="#0000ff"/>
<text x="167.2" y="150.80" font-size="7.8" fill="#1a1a1a">OMP</text>
<line x1="187.5" y1="148.00" x2="200.0" y2="148.00" stroke="#ff0000" stroke-width="1.5" stroke-dasharray="1.5 1.4"/>
<rect x="193.97" y="146.47" width="3.06" height="3.06" fill="#ff0000"/>
<text x="202.2" y="150.80" font-size="7.8" fill="#1a1a1a">CoSaMP</text>
<line x1="235.8" y1="148.00" x2="247.5" y2="148.00" stroke="#000000" stroke-width="1.5" stroke-dasharray="1.5 1.4"/>
<path d="M240.19,148.00L244.40,145.52L244.40,150.48Z" fill="#000000"/>
<text x="249.6" y="150.80" font-size="7.8" fill="#1a1a1a">IHT</text>
<line x1="265.0" y1="148.00" x2="276.7" y2="148.00" stroke="#ff00ff" stroke-width="1.5" stroke-dasharray="1.5 1.4"/>
<path d="M272.00,145.66L273.98,148.00L272.00,150.34L270.02,148.00Z" fill="#ff00ff"/>
<text x="278.8" y="150.80" font-size="7.8" fill="#1a1a1a">SP</text>
<text x="8.0" y="285.1" style="font-family:'Liberation Serif',serif;font-weight:bold" font-size="10.8" fill="#111">(c)</text>
<rect x="33.9" y="292.3" width="108.00" height="92.10" fill="#fff"/>
<line x1="47.40" y1="292.3" x2="47.40" y2="384.4" stroke="#d3d3d3" stroke-width="0.9"/>
<line x1="60.90" y1="292.3" x2="60.90" y2="384.4" stroke="#d3d3d3" stroke-width="0.9"/>
<line x1="74.40" y1="292.3" x2="74.40" y2="384.4" stroke="#d3d3d3" stroke-width="0.9"/>
<line x1="87.90" y1="292.3" x2="87.90" y2="384.4" stroke="#d3d3d3" stroke-width="0.9"/>
<line x1="101.40" y1="292.3" x2="101.40" y2="384.4" stroke="#d3d3d3" stroke-width="0.9"/>
<line x1="114.90" y1="292.3" x2="114.90" y2="384.4" stroke="#d3d3d3" stroke-width="0.9"/>
<line x1="128.40" y1="292.3" x2="128.40" y2="384.4" stroke="#d3d3d3" stroke-width="0.9"/>
<line x1="33.9" y1="365.98" x2="141.9" y2="365.98" stroke="#d3d3d3" stroke-width="0.9"/>
<line x1="33.9" y1="347.56" x2="141.9" y2="347.56" stroke="#d3d3d3" stroke-width="0.9"/>
<line x1="33.9" y1="329.14" x2="141.9" y2="329.14" stroke="#d3d3d3" stroke-width="0.9"/>
<line x1="33.9" y1="310.72" x2="141.9" y2="310.72" stroke="#d3d3d3" stroke-width="0.9"/>
<clipPath id="c33_292"><rect x="30.9" y="289.3" width="114.00" height="98.10"/></clipPath>
<g clip-path="url(#c33_292)">
<polyline points="33.90,356.03 47.40,347.19 60.90,331.35 74.40,319.56 87.90,308.14 101.40,298.56 114.90,301.14 128.40,305.93 141.90,307.77" fill="none" stroke="#ff0000" stroke-width="1.6" stroke-dasharray="1.6 1.1"/>
<polyline points="33.90,364.87 47.40,357.51 60.90,351.24 74.40,340.19 87.90,329.51 101.40,312.19 114.90,302.62 128.40,304.46 141.90,307.77" fill="none" stroke="#0000ff" stroke-width="1.6" stroke-dasharray="1.6 1.1"/>
<polyline points="33.90,379.61 47.40,378.87 60.90,377.40 74.40,375.56 87.90,374.08 101.40,372.61 114.90,370.40 128.40,363.03 141.90,307.77" fill="none" stroke="#000000" stroke-width="1.6" stroke-dasharray="1.6 1.1"/>
<rect x="32.37" y="354.50" width="3.06" height="3.06" fill="#ff0000"/>
<rect x="45.87" y="345.66" width="3.06" height="3.06" fill="#ff0000"/>
<rect x="59.37" y="329.82" width="3.06" height="3.06" fill="#ff0000"/>
<rect x="72.87" y="318.03" width="3.06" height="3.06" fill="#ff0000"/>
<rect x="86.37" y="306.61" width="3.06" height="3.06" fill="#ff0000"/>
<rect x="99.87" y="297.03" width="3.06" height="3.06" fill="#ff0000"/>
<rect x="113.37" y="299.61" width="3.06" height="3.06" fill="#ff0000"/>
<rect x="126.87" y="304.40" width="3.06" height="3.06" fill="#ff0000"/>
<rect x="140.37" y="306.24" width="3.06" height="3.06" fill="#ff0000"/>
<circle cx="33.90" cy="364.87" r="1.80" fill="#0000ff"/>
<circle cx="47.40" cy="357.51" r="1.80" fill="#0000ff"/>
<circle cx="60.90" cy="351.24" r="1.80" fill="#0000ff"/>
<circle cx="74.40" cy="340.19" r="1.80" fill="#0000ff"/>
<circle cx="87.90" cy="329.51" r="1.80" fill="#0000ff"/>
<circle cx="101.40" cy="312.19" r="1.80" fill="#0000ff"/>
<circle cx="114.90" cy="302.62" r="1.80" fill="#0000ff"/>
<circle cx="128.40" cy="304.46" r="1.80" fill="#0000ff"/>
<circle cx="141.90" cy="307.77" r="1.80" fill="#0000ff"/>
<path d="M31.09,379.61L35.30,377.13L35.30,382.09Z" fill="#000000"/>
<path d="M44.59,378.87L48.80,376.39L48.80,381.36Z" fill="#000000"/>
<path d="M58.09,377.40L62.30,374.92L62.30,379.88Z" fill="#000000"/>
<path d="M71.59,375.56L75.80,373.07L75.80,378.04Z" fill="#000000"/>
<path d="M85.09,374.08L89.30,371.60L89.30,376.57Z" fill="#000000"/>
<path d="M98.59,372.61L102.80,370.13L102.80,375.10Z" fill="#000000"/>
<path d="M112.09,370.40L116.30,367.92L116.30,372.88Z" fill="#000000"/>
<path d="M125.59,363.03L129.80,360.55L129.80,365.52Z" fill="#000000"/>
<path d="M139.09,307.77L143.30,305.29L143.30,310.26Z" fill="#000000"/>
</g>
<rect x="33.9" y="292.3" width="108.00" height="92.10" fill="none" stroke="#3c3c3c" stroke-width="1.2"/>
<line x1="33.90" y1="384.4" x2="33.90" y2="383.09999999999997" stroke="#3c3c3c" stroke-width="0.8"/>
<line x1="33.90" y1="292.3" x2="33.90" y2="293.6" stroke="#3c3c3c" stroke-width="0.8"/>
<line x1="47.40" y1="384.4" x2="47.40" y2="383.09999999999997" stroke="#3c3c3c" stroke-width="0.8"/>
<line x1="47.40" y1="292.3" x2="47.40" y2="293.6" stroke="#3c3c3c" stroke-width="0.8"/>
<line x1="60.90" y1="384.4" x2="60.90" y2="383.09999999999997" stroke="#3c3c3c" stroke-width="0.8"/>
<line x1="60.90" y1="292.3" x2="60.90" y2="293.6" stroke="#3c3c3c" stroke-width="0.8"/>
<line x1="74.40" y1="384.4" x2="74.40" y2="383.09999999999997" stroke="#3c3c3c" stroke-width="0.8"/>
<line x1="74.40" y1="292.3" x2="74.40" y2="293.6" stroke="#3c3c3c" stroke-width="0.8"/>
<line x1="87.90" y1="384.4" x2="87.90" y2="383.09999999999997" stroke="#3c3c3c" stroke-width="0.8"/>
<line x1="87.90" y1="292.3" x2="87.90" y2="293.6" stroke="#3c3c3c" stroke-width="0.8"/>
<line x1="101.40" y1="384.4" x2="101.40" y2="383.09999999999997" stroke="#3c3c3c" stroke-width="0.8"/>
<line x1="101.40" y1="292.3" x2="101.40" y2="293.6" stroke="#3c3c3c" stroke-width="0.8"/>
<line x1="114.90" y1="384.4" x2="114.90" y2="383.09999999999997" stroke="#3c3c3c" stroke-width="0.8"/>
<line x1="114.90" y1="292.3" x2="114.90" y2="293.6" stroke="#3c3c3c" stroke-width="0.8"/>
<line x1="128.40" y1="384.4" x2="128.40" y2="383.09999999999997" stroke="#3c3c3c" stroke-width="0.8"/>
<line x1="128.40" y1="292.3" x2="128.40" y2="293.6" stroke="#3c3c3c" stroke-width="0.8"/>
<line x1="141.90" y1="384.4" x2="141.90" y2="383.09999999999997" stroke="#3c3c3c" stroke-width="0.8"/>
<line x1="141.90" y1="292.3" x2="141.90" y2="293.6" stroke="#3c3c3c" stroke-width="0.8"/>
<line x1="33.9" y1="384.40" x2="35.199999999999996" y2="384.40" stroke="#3c3c3c" stroke-width="0.8"/>
<line x1="141.9" y1="384.40" x2="140.6" y2="384.40" stroke="#3c3c3c" stroke-width="0.8"/>
<line x1="33.9" y1="365.98" x2="35.199999999999996" y2="365.98" stroke="#3c3c3c" stroke-width="0.8"/>
<line x1="141.9" y1="365.98" x2="140.6" y2="365.98" stroke="#3c3c3c" stroke-width="0.8"/>
<line x1="33.9" y1="347.56" x2="35.199999999999996" y2="347.56" stroke="#3c3c3c" stroke-width="0.8"/>
<line x1="141.9" y1="347.56" x2="140.6" y2="347.56" stroke="#3c3c3c" stroke-width="0.8"/>
<line x1="33.9" y1="329.14" x2="35.199999999999996" y2="329.14" stroke="#3c3c3c" stroke-width="0.8"/>
<line x1="141.9" y1="329.14" x2="140.6" y2="329.14" stroke="#3c3c3c" stroke-width="0.8"/>
<line x1="33.9" y1="310.72" x2="35.199999999999996" y2="310.72" stroke="#3c3c3c" stroke-width="0.8"/>
<line x1="141.9" y1="310.72" x2="140.6" y2="310.72" stroke="#3c3c3c" stroke-width="0.8"/>
<line x1="33.9" y1="292.30" x2="35.199999999999996" y2="292.30" stroke="#3c3c3c" stroke-width="0.8"/>
<line x1="141.9" y1="292.30" x2="140.6" y2="292.30" stroke="#3c3c3c" stroke-width="0.8"/>
<text x="31.40" y="387.70" text-anchor="end" font-size="7.7" letter-spacing="-0.15" fill="#161616">10</text>
<text x="31.40" y="369.28" text-anchor="end" font-size="7.7" letter-spacing="-0.15" fill="#161616">15</text>
<text x="31.40" y="350.86" text-anchor="end" font-size="7.7" letter-spacing="-0.15" fill="#161616">20</text>
<text x="31.40" y="332.44" text-anchor="end" font-size="7.7" letter-spacing="-0.15" fill="#161616">25</text>
<text x="31.40" y="314.02" text-anchor="end" font-size="7.7" letter-spacing="-0.15" fill="#161616">30</text>
<text x="31.40" y="295.60" text-anchor="end" font-size="7.7" letter-spacing="-0.15" fill="#161616">35</text>
<text transform="translate(39.70,393.40) rotate(-45)" text-anchor="end" font-size="8.2" fill="#161616">0.2</text>
<text transform="translate(53.20,393.40) rotate(-45)" text-anchor="end" font-size="8.2" fill="#161616">0.3</text>
<text transform="translate(66.70,393.40) rotate(-45)" text-anchor="end" font-size="8.2" fill="#161616">0.4</text>
<text transform="translate(80.20,393.40) rotate(-45)" text-anchor="end" font-size="8.2" fill="#161616">0.5</text>
<text transform="translate(93.70,393.40) rotate(-45)" text-anchor="end" font-size="8.2" fill="#161616">0.6</text>
<text transform="translate(107.20,393.40) rotate(-45)" text-anchor="end" font-size="8.2" fill="#161616">0.7</text>
<text transform="translate(120.70,393.40) rotate(-45)" text-anchor="end" font-size="8.2" fill="#161616">0.8</text>
<text transform="translate(134.20,393.40) rotate(-45)" text-anchor="end" font-size="8.2" fill="#161616">0.9</text>
<text transform="translate(147.70,393.40) rotate(-45)" text-anchor="end" font-size="8.2" fill="#161616">1</text>
<text x="87.90" y="410.80" text-anchor="middle" font-size="8.4" fill="#161616">Sampling ratio</text>
<text transform="translate(18.80,338.35) rotate(-90)" text-anchor="middle" font-size="8.4" fill="#161616">PSNR(dB)</text>
<rect x="168.1" y="292.3" width="107.60" height="92.10" fill="#fff"/>
<line x1="181.55" y1="292.3" x2="181.55" y2="384.4" stroke="#d3d3d3" stroke-width="0.9"/>
<line x1="195.00" y1="292.3" x2="195.00" y2="384.4" stroke="#d3d3d3" stroke-width="0.9"/>
<line x1="208.45" y1="292.3" x2="208.45" y2="384.4" stroke="#d3d3d3" stroke-width="0.9"/>
<line x1="221.90" y1="292.3" x2="221.90" y2="384.4" stroke="#d3d3d3" stroke-width="0.9"/>
<line x1="235.35" y1="292.3" x2="235.35" y2="384.4" stroke="#d3d3d3" stroke-width="0.9"/>
<line x1="248.80" y1="292.3" x2="248.80" y2="384.4" stroke="#d3d3d3" stroke-width="0.9"/>
<line x1="262.25" y1="292.3" x2="262.25" y2="384.4" stroke="#d3d3d3" stroke-width="0.9"/>
<line x1="168.1" y1="365.98" x2="275.7" y2="365.98" stroke="#d3d3d3" stroke-width="0.9"/>
<line x1="168.1" y1="347.56" x2="275.7" y2="347.56" stroke="#d3d3d3" stroke-width="0.9"/>
<line x1="168.1" y1="329.14" x2="275.7" y2="329.14" stroke="#d3d3d3" stroke-width="0.9"/>
<line x1="168.1" y1="310.72" x2="275.7" y2="310.72" stroke="#d3d3d3" stroke-width="0.9"/>
<clipPath id="c168_292"><rect x="165.1" y="289.3" width="113.60" height="98.10"/></clipPath>
<g clip-path="url(#c168_292)">
<polyline points="168.10,373.72 181.55,372.43 195.00,370.40 208.45,368.74 221.90,365.34 235.35,362.66 248.80,358.61 262.25,350.69 275.70,294.14" fill="none" stroke="#000000" stroke-width="1.6" stroke-dasharray="1.6 1.1"/>
<polyline points="168.10,355.39 181.55,346.36 195.00,336.51 208.45,325.46 221.90,315.32 235.35,304.27 248.80,298.01 262.25,295.34 275.70,294.14" fill="none" stroke="#0000ff" stroke-width="1.6" stroke-dasharray="1.6 1.1"/>
<polyline points="168.10,333.75 181.55,322.69 195.00,312.56 208.45,305.19 221.90,299.30 235.35,296.26 248.80,295.34 262.25,294.60 275.70,294.14" fill="none" stroke="#ff0000" stroke-width="1.6" stroke-dasharray="1.6 1.1"/>
<path d="M165.29,373.72L169.50,371.23L169.50,376.20Z" fill="#000000"/>
<path d="M178.74,372.43L182.95,369.94L182.95,374.91Z" fill="#000000"/>
<path d="M192.19,370.40L196.40,367.92L196.40,372.88Z" fill="#000000"/>
<path d="M205.64,368.74L209.85,366.26L209.85,371.23Z" fill="#000000"/>
<path d="M219.09,365.34L223.30,362.85L223.30,367.82Z" fill="#000000"/>
<path d="M232.54,362.66L236.75,360.18L236.75,365.15Z" fill="#000000"/>
<path d="M245.99,358.61L250.20,356.13L250.20,361.10Z" fill="#000000"/>
<path d="M259.44,350.69L263.65,348.21L263.65,353.18Z" fill="#000000"/>
<path d="M272.89,294.14L277.10,291.66L277.10,296.63Z" fill="#000000"/>
<circle cx="168.10" cy="355.39" r="1.80" fill="#0000ff"/>
<circle cx="181.55" cy="346.36" r="1.80" fill="#0000ff"/>
<circle cx="195.00" cy="336.51" r="1.80" fill="#0000ff"/>
<circle cx="208.45" cy="325.46" r="1.80" fill="#0000ff"/>
<circle cx="221.90" cy="315.32" r="1.80" fill="#0000ff"/>
<circle cx="235.35" cy="304.27" r="1.80" fill="#0000ff"/>
<circle cx="248.80" cy="298.01" r="1.80" fill="#0000ff"/>
<circle cx="262.25" cy="295.34" r="1.80" fill="#0000ff"/>
<circle cx="275.70" cy="294.14" r="1.80" fill="#0000ff"/>
<rect x="166.57" y="332.22" width="3.06" height="3.06" fill="#ff0000"/>
<rect x="180.02" y="321.16" width="3.06" height="3.06" fill="#ff0000"/>
<rect x="193.47" y="311.03" width="3.06" height="3.06" fill="#ff0000"/>
<rect x="206.92" y="303.66" width="3.06" height="3.06" fill="#ff0000"/>
<rect x="220.37" y="297.77" width="3.06" height="3.06" fill="#ff0000"/>
<rect x="233.82" y="294.73" width="3.06" height="3.06" fill="#ff0000"/>
<rect x="247.27" y="293.81" width="3.06" height="3.06" fill="#ff0000"/>
<rect x="260.72" y="293.07" width="3.06" height="3.06" fill="#ff0000"/>
<rect x="274.17" y="292.61" width="3.06" height="3.06" fill="#ff0000"/>
</g>
<rect x="168.1" y="292.3" width="107.60" height="92.10" fill="none" stroke="#3c3c3c" stroke-width="1.2"/>
<line x1="168.10" y1="384.4" x2="168.10" y2="383.09999999999997" stroke="#3c3c3c" stroke-width="0.8"/>
<line x1="168.10" y1="292.3" x2="168.10" y2="293.6" stroke="#3c3c3c" stroke-width="0.8"/>
<line x1="181.55" y1="384.4" x2="181.55" y2="383.09999999999997" stroke="#3c3c3c" stroke-width="0.8"/>
<line x1="181.55" y1="292.3" x2="181.55" y2="293.6" stroke="#3c3c3c" stroke-width="0.8"/>
<line x1="195.00" y1="384.4" x2="195.00" y2="383.09999999999997" stroke="#3c3c3c" stroke-width="0.8"/>
<line x1="195.00" y1="292.3" x2="195.00" y2="293.6" stroke="#3c3c3c" stroke-width="0.8"/>
<line x1="208.45" y1="384.4" x2="208.45" y2="383.09999999999997" stroke="#3c3c3c" stroke-width="0.8"/>
<line x1="208.45" y1="292.3" x2="208.45" y2="293.6" stroke="#3c3c3c" stroke-width="0.8"/>
<line x1="221.90" y1="384.4" x2="221.90" y2="383.09999999999997" stroke="#3c3c3c" stroke-width="0.8"/>
<line x1="221.90" y1="292.3" x2="221.90" y2="293.6" stroke="#3c3c3c" stroke-width="0.8"/>
<line x1="235.35" y1="384.4" x2="235.35" y2="383.09999999999997" stroke="#3c3c3c" stroke-width="0.8"/>
<line x1="235.35" y1="292.3" x2="235.35" y2="293.6" stroke="#3c3c3c" stroke-width="0.8"/>
<line x1="248.80" y1="384.4" x2="248.80" y2="383.09999999999997" stroke="#3c3c3c" stroke-width="0.8"/>
<line x1="248.80" y1="292.3" x2="248.80" y2="293.6" stroke="#3c3c3c" stroke-width="0.8"/>
<line x1="262.25" y1="384.4" x2="262.25" y2="383.09999999999997" stroke="#3c3c3c" stroke-width="0.8"/>
<line x1="262.25" y1="292.3" x2="262.25" y2="293.6" stroke="#3c3c3c" stroke-width="0.8"/>
<line x1="275.70" y1="384.4" x2="275.70" y2="383.09999999999997" stroke="#3c3c3c" stroke-width="0.8"/>
<line x1="275.70" y1="292.3" x2="275.70" y2="293.6" stroke="#3c3c3c" stroke-width="0.8"/>
<line x1="168.1" y1="384.40" x2="169.4" y2="384.40" stroke="#3c3c3c" stroke-width="0.8"/>
<line x1="275.7" y1="384.40" x2="274.4" y2="384.40" stroke="#3c3c3c" stroke-width="0.8"/>
<line x1="168.1" y1="365.98" x2="169.4" y2="365.98" stroke="#3c3c3c" stroke-width="0.8"/>
<line x1="275.7" y1="365.98" x2="274.4" y2="365.98" stroke="#3c3c3c" stroke-width="0.8"/>
<line x1="168.1" y1="347.56" x2="169.4" y2="347.56" stroke="#3c3c3c" stroke-width="0.8"/>
<line x1="275.7" y1="347.56" x2="274.4" y2="347.56" stroke="#3c3c3c" stroke-width="0.8"/>
<line x1="168.1" y1="329.14" x2="169.4" y2="329.14" stroke="#3c3c3c" stroke-width="0.8"/>
<line x1="275.7" y1="329.14" x2="274.4" y2="329.14" stroke="#3c3c3c" stroke-width="0.8"/>
<line x1="168.1" y1="310.72" x2="169.4" y2="310.72" stroke="#3c3c3c" stroke-width="0.8"/>
<line x1="275.7" y1="310.72" x2="274.4" y2="310.72" stroke="#3c3c3c" stroke-width="0.8"/>
<line x1="168.1" y1="292.30" x2="169.4" y2="292.30" stroke="#3c3c3c" stroke-width="0.8"/>
<line x1="275.7" y1="292.30" x2="274.4" y2="292.30" stroke="#3c3c3c" stroke-width="0.8"/>
<text x="165.60" y="387.70" text-anchor="end" font-size="7.7" letter-spacing="-0.15" fill="#161616">0</text>
<text x="165.60" y="369.28" text-anchor="end" font-size="7.7" letter-spacing="-0.15" fill="#161616">0.2</text>
<text x="165.60" y="350.86" text-anchor="end" font-size="7.7" letter-spacing="-0.15" fill="#161616">0.4</text>
<text x="165.60" y="332.44" text-anchor="end" font-size="7.7" letter-spacing="-0.15" fill="#161616">0.6</text>
<text x="165.60" y="314.02" text-anchor="end" font-size="7.7" letter-spacing="-0.15" fill="#161616">0.8</text>
<text x="165.60" y="295.60" text-anchor="end" font-size="7.7" letter-spacing="-0.15" fill="#161616">1</text>
<text transform="translate(173.90,393.40) rotate(-45)" text-anchor="end" font-size="8.2" fill="#161616">0.2</text>
<text transform="translate(187.35,393.40) rotate(-45)" text-anchor="end" font-size="8.2" fill="#161616">0.3</text>
<text transform="translate(200.80,393.40) rotate(-45)" text-anchor="end" font-size="8.2" fill="#161616">0.4</text>
<text transform="translate(214.25,393.40) rotate(-45)" text-anchor="end" font-size="8.2" fill="#161616">0.5</text>
<text transform="translate(227.70,393.40) rotate(-45)" text-anchor="end" font-size="8.2" fill="#161616">0.6</text>
<text transform="translate(241.15,393.40) rotate(-45)" text-anchor="end" font-size="8.2" fill="#161616">0.7</text>
<text transform="translate(254.60,393.40) rotate(-45)" text-anchor="end" font-size="8.2" fill="#161616">0.8</text>
<text transform="translate(268.05,393.40) rotate(-45)" text-anchor="end" font-size="8.2" fill="#161616">0.9</text>
<text transform="translate(281.50,393.40) rotate(-45)" text-anchor="end" font-size="8.2" fill="#161616">1</text>
<text x="221.90" y="410.80" text-anchor="middle" font-size="8.4" fill="#161616">Sampling ratio</text>
<text transform="translate(151.60,338.35) rotate(-90)" text-anchor="middle" font-size="8.4" fill="#161616">SSIM</text>
<rect x="302.9" y="292.3" width="107.90" height="92.10" fill="#fff"/>
<line x1="316.39" y1="292.3" x2="316.39" y2="384.4" stroke="#d3d3d3" stroke-width="0.9"/>
<line x1="329.88" y1="292.3" x2="329.88" y2="384.4" stroke="#d3d3d3" stroke-width="0.9"/>
<line x1="343.36" y1="292.3" x2="343.36" y2="384.4" stroke="#d3d3d3" stroke-width="0.9"/>
<line x1="356.85" y1="292.3" x2="356.85" y2="384.4" stroke="#d3d3d3" stroke-width="0.9"/>
<line x1="370.34" y1="292.3" x2="370.34" y2="384.4" stroke="#d3d3d3" stroke-width="0.9"/>
<line x1="383.83" y1="292.3" x2="383.83" y2="384.4" stroke="#d3d3d3" stroke-width="0.9"/>
<line x1="397.31" y1="292.3" x2="397.31" y2="384.4" stroke="#d3d3d3" stroke-width="0.9"/>
<line x1="302.9" y1="361.38" x2="410.8" y2="361.38" stroke="#d3d3d3" stroke-width="0.9"/>
<line x1="302.9" y1="338.35" x2="410.8" y2="338.35" stroke="#d3d3d3" stroke-width="0.9"/>
<line x1="302.9" y1="315.32" x2="410.8" y2="315.32" stroke="#d3d3d3" stroke-width="0.9"/>
<clipPath id="c302_292"><rect x="299.9" y="289.3" width="113.90" height="98.10"/></clipPath>
<g clip-path="url(#c302_292)">
<polyline points="302.90,407.42 316.39,407.42 329.88,407.42 343.36,407.42 356.85,407.42 370.34,407.42 383.83,407.42 397.31,407.42 410.80,407.42" fill="none" stroke="#0000ff" stroke-width="1.6" stroke-dasharray="1.6 1.1"/>
<polyline points="302.90,332.82 316.39,332.82 329.88,332.82 343.36,332.82 356.85,332.82 370.34,332.82 383.83,323.71 397.31,295.98 410.80,337.89" fill="none" stroke="#ff0000" stroke-width="1.6" stroke-dasharray="1.6 1.1"/>
<polyline points="302.90,384.26 316.39,384.26 329.88,384.26 343.36,384.26 356.85,384.26 370.34,384.26 383.83,384.26 397.31,384.26 410.80,384.26" fill="none" stroke="#000000" stroke-width="1.6" stroke-dasharray="1.6 1.1"/>
<circle cx="302.90" cy="407.42" r="1.80" fill="#0000ff"/>
<circle cx="316.39" cy="407.42" r="1.80" fill="#0000ff"/>
<circle cx="329.88" cy="407.42" r="1.80" fill="#0000ff"/>
<circle cx="343.36" cy="407.42" r="1.80" fill="#0000ff"/>
<circle cx="356.85" cy="407.42" r="1.80" fill="#0000ff"/>
<circle cx="370.34" cy="407.42" r="1.80" fill="#0000ff"/>
<circle cx="383.83" cy="407.42" r="1.80" fill="#0000ff"/>
<circle cx="397.31" cy="407.42" r="1.80" fill="#0000ff"/>
<circle cx="410.80" cy="407.42" r="1.80" fill="#0000ff"/>
<rect x="301.37" y="331.29" width="3.06" height="3.06" fill="#ff0000"/>
<rect x="314.86" y="331.29" width="3.06" height="3.06" fill="#ff0000"/>
<rect x="328.35" y="331.29" width="3.06" height="3.06" fill="#ff0000"/>
<rect x="341.83" y="331.29" width="3.06" height="3.06" fill="#ff0000"/>
<rect x="355.32" y="331.29" width="3.06" height="3.06" fill="#ff0000"/>
<rect x="368.81" y="331.29" width="3.06" height="3.06" fill="#ff0000"/>
<rect x="382.30" y="322.18" width="3.06" height="3.06" fill="#ff0000"/>
<rect x="395.78" y="294.45" width="3.06" height="3.06" fill="#ff0000"/>
<rect x="409.27" y="336.36" width="3.06" height="3.06" fill="#ff0000"/>
<path d="M300.17,384.26L304.26,381.85L304.26,386.68Z" fill="#000000"/>
<path d="M313.66,384.26L317.75,381.85L317.75,386.68Z" fill="#000000"/>
<path d="M327.14,384.26L331.24,381.85L331.24,386.68Z" fill="#000000"/>
<path d="M340.63,384.26L344.73,381.85L344.73,386.68Z" fill="#000000"/>
<path d="M354.12,384.26L358.21,381.85L358.21,386.68Z" fill="#000000"/>
<path d="M367.61,384.26L371.70,381.85L371.70,386.68Z" fill="#000000"/>
<path d="M381.10,384.26L385.19,381.85L385.19,386.68Z" fill="#000000"/>
<path d="M394.58,384.26L398.68,381.85L398.68,386.68Z" fill="#000000"/>
<path d="M408.07,384.26L412.17,381.85L412.17,386.68Z" fill="#000000"/>
</g>
<rect x="302.9" y="292.3" width="107.90" height="92.10" fill="none" stroke="#3c3c3c" stroke-width="1.2"/>
<line x1="302.90" y1="384.4" x2="302.90" y2="383.09999999999997" stroke="#3c3c3c" stroke-width="0.8"/>
<line x1="302.90" y1="292.3" x2="302.90" y2="293.6" stroke="#3c3c3c" stroke-width="0.8"/>
<line x1="316.39" y1="384.4" x2="316.39" y2="383.09999999999997" stroke="#3c3c3c" stroke-width="0.8"/>
<line x1="316.39" y1="292.3" x2="316.39" y2="293.6" stroke="#3c3c3c" stroke-width="0.8"/>
<line x1="329.88" y1="384.4" x2="329.88" y2="383.09999999999997" stroke="#3c3c3c" stroke-width="0.8"/>
<line x1="329.88" y1="292.3" x2="329.88" y2="293.6" stroke="#3c3c3c" stroke-width="0.8"/>
<line x1="343.36" y1="384.4" x2="343.36" y2="383.09999999999997" stroke="#3c3c3c" stroke-width="0.8"/>
<line x1="343.36" y1="292.3" x2="343.36" y2="293.6" stroke="#3c3c3c" stroke-width="0.8"/>
<line x1="356.85" y1="384.4" x2="356.85" y2="383.09999999999997" stroke="#3c3c3c" stroke-width="0.8"/>
<line x1="356.85" y1="292.3" x2="356.85" y2="293.6" stroke="#3c3c3c" stroke-width="0.8"/>
<line x1="370.34" y1="384.4" x2="370.34" y2="383.09999999999997" stroke="#3c3c3c" stroke-width="0.8"/>
<line x1="370.34" y1="292.3" x2="370.34" y2="293.6" stroke="#3c3c3c" stroke-width="0.8"/>
<line x1="383.83" y1="384.4" x2="383.83" y2="383.09999999999997" stroke="#3c3c3c" stroke-width="0.8"/>
<line x1="383.83" y1="292.3" x2="383.83" y2="293.6" stroke="#3c3c3c" stroke-width="0.8"/>
<line x1="397.31" y1="384.4" x2="397.31" y2="383.09999999999997" stroke="#3c3c3c" stroke-width="0.8"/>
<line x1="397.31" y1="292.3" x2="397.31" y2="293.6" stroke="#3c3c3c" stroke-width="0.8"/>
<line x1="410.80" y1="384.4" x2="410.80" y2="383.09999999999997" stroke="#3c3c3c" stroke-width="0.8"/>
<line x1="410.80" y1="292.3" x2="410.80" y2="293.6" stroke="#3c3c3c" stroke-width="0.8"/>
<line x1="302.9" y1="384.40" x2="304.2" y2="384.40" stroke="#3c3c3c" stroke-width="0.8"/>
<line x1="410.8" y1="384.40" x2="409.5" y2="384.40" stroke="#3c3c3c" stroke-width="0.8"/>
<line x1="302.9" y1="361.38" x2="304.2" y2="361.38" stroke="#3c3c3c" stroke-width="0.8"/>
<line x1="410.8" y1="361.38" x2="409.5" y2="361.38" stroke="#3c3c3c" stroke-width="0.8"/>
<line x1="302.9" y1="338.35" x2="304.2" y2="338.35" stroke="#3c3c3c" stroke-width="0.8"/>
<line x1="410.8" y1="338.35" x2="409.5" y2="338.35" stroke="#3c3c3c" stroke-width="0.8"/>
<line x1="302.9" y1="315.32" x2="304.2" y2="315.32" stroke="#3c3c3c" stroke-width="0.8"/>
<line x1="410.8" y1="315.32" x2="409.5" y2="315.32" stroke="#3c3c3c" stroke-width="0.8"/>
<line x1="302.9" y1="292.30" x2="304.2" y2="292.30" stroke="#3c3c3c" stroke-width="0.8"/>
<line x1="410.8" y1="292.30" x2="409.5" y2="292.30" stroke="#3c3c3c" stroke-width="0.8"/>
<text x="300.40" y="387.70" text-anchor="end" font-size="7.7" letter-spacing="-0.15" fill="#161616">0</text>
<text x="300.40" y="364.68" text-anchor="end" font-size="7.7" letter-spacing="-0.15" fill="#161616">50</text>
<text x="300.40" y="341.65" text-anchor="end" font-size="7.7" letter-spacing="-0.15" fill="#161616">100</text>
<text x="300.40" y="318.62" text-anchor="end" font-size="7.7" letter-spacing="-0.15" fill="#161616">150</text>
<text x="300.40" y="295.60" text-anchor="end" font-size="7.7" letter-spacing="-0.15" fill="#161616">200</text>
<text transform="translate(308.70,393.40) rotate(-45)" text-anchor="end" font-size="8.2" fill="#161616">0.2</text>
<text transform="translate(322.19,393.40) rotate(-45)" text-anchor="end" font-size="8.2" fill="#161616">0.3</text>
<text transform="translate(335.68,393.40) rotate(-45)" text-anchor="end" font-size="8.2" fill="#161616">0.4</text>
<text transform="translate(349.16,393.40) rotate(-45)" text-anchor="end" font-size="8.2" fill="#161616">0.5</text>
<text transform="translate(362.65,393.40) rotate(-45)" text-anchor="end" font-size="8.2" fill="#161616">0.6</text>
<text transform="translate(376.14,393.40) rotate(-45)" text-anchor="end" font-size="8.2" fill="#161616">0.7</text>
<text transform="translate(389.63,393.40) rotate(-45)" text-anchor="end" font-size="8.2" fill="#161616">0.8</text>
<text transform="translate(403.11,393.40) rotate(-45)" text-anchor="end" font-size="8.2" fill="#161616">0.9</text>
<text transform="translate(416.60,393.40) rotate(-45)" text-anchor="end" font-size="8.2" fill="#161616">1</text>
<text x="356.85" y="410.80" text-anchor="middle" font-size="8.4" fill="#161616">Sampling ratio</text>
<text transform="translate(285.10,338.35) rotate(-90)" text-anchor="middle" font-size="8.4" fill="#161616">Running time(S)</text>
<rect x="161.0" y="277.9" width="122.20" height="10.50" fill="#fff" stroke="#3c3c3c" stroke-width="0.9"/>
<line x1="162.5" y1="283.15" x2="175.0" y2="283.15" stroke="#0000ff" stroke-width="1.5" stroke-dasharray="1.5 1.4"/>
<circle cx="170.00" cy="283.15" r="1.80" fill="#0000ff"/>
<text x="177.0" y="285.95" font-size="7.8" fill="#1a1a1a">TVAL3</text>
<line x1="202.5" y1="283.15" x2="215.5" y2="283.15" stroke="#ff0000" stroke-width="1.5" stroke-dasharray="1.5 1.4"/>
<rect x="209.47" y="281.62" width="3.06" height="3.06" fill="#ff0000"/>
<text x="217.8" y="285.95" font-size="7.8" fill="#1a1a1a">TV-DS</text>
<line x1="242.7" y1="283.15" x2="255.0" y2="283.15" stroke="#000000" stroke-width="1.5" stroke-dasharray="1.5 1.4"/>
<path d="M248.69,283.15L252.90,280.67L252.90,285.63Z" fill="#000000"/>
<text x="256.5" y="285.95" font-size="7.8" fill="#1a1a1a">TV-QC</text>
<text x="8.0" y="420.2" style="font-family:'Liberation Serif',serif;font-weight:bold" font-size="10.8" fill="#111">(d)</text>
<rect x="33.3" y="427.4" width="106.50" height="92.10" fill="#fff"/>
<line x1="46.61" y1="427.4" x2="46.61" y2="519.5" stroke="#d3d3d3" stroke-width="0.9"/>
<line x1="59.92" y1="427.4" x2="59.92" y2="519.5" stroke="#d3d3d3" stroke-width="0.9"/>
<line x1="73.24" y1="427.4" x2="73.24" y2="519.5" stroke="#d3d3d3" stroke-width="0.9"/>
<line x1="86.55" y1="427.4" x2="86.55" y2="519.5" stroke="#d3d3d3" stroke-width="0.9"/>
<line x1="99.86" y1="427.4" x2="99.86" y2="519.5" stroke="#d3d3d3" stroke-width="0.9"/>
<line x1="113.18" y1="427.4" x2="113.18" y2="519.5" stroke="#d3d3d3" stroke-width="0.9"/>
<line x1="126.49" y1="427.4" x2="126.49" y2="519.5" stroke="#d3d3d3" stroke-width="0.9"/>
<line x1="33.3" y1="501.08" x2="139.8" y2="501.08" stroke="#d3d3d3" stroke-width="0.9"/>
<line x1="33.3" y1="482.66" x2="139.8" y2="482.66" stroke="#d3d3d3" stroke-width="0.9"/>
<line x1="33.3" y1="464.24" x2="139.8" y2="464.24" stroke="#d3d3d3" stroke-width="0.9"/>
<line x1="33.3" y1="445.82" x2="139.8" y2="445.82" stroke="#d3d3d3" stroke-width="0.9"/>
<clipPath id="c33_427"><rect x="30.299999999999997" y="424.4" width="112.50" height="98.10"/></clipPath>
<g clip-path="url(#c33_427)">
<polyline points="33.30,507.34 46.61,504.40 59.92,500.71 73.24,499.97 86.55,496.66 99.86,492.24 113.18,490.40 126.49,487.45 139.80,481.55" fill="none" stroke="#0000ff" stroke-width="1.6" stroke-dasharray="1.6 1.1"/>
<polyline points="33.30,509.92 46.61,507.34 59.92,502.92 73.24,499.97 86.55,493.34 99.86,487.82 113.18,478.98 126.49,467.92 139.80,437.35" fill="none" stroke="#ff0000" stroke-width="1.6" stroke-dasharray="1.6 1.1"/>
<polyline points="33.30,502.55 46.61,499.24 59.92,497.76 73.24,499.24 86.55,487.45 99.86,485.61 113.18,477.87 126.49,462.03 139.80,443.61" fill="none" stroke="#000000" stroke-width="1.6" stroke-dasharray="1.6 1.1"/>
<circle cx="33.30" cy="507.34" r="1.80" fill="#0000ff"/>
<circle cx="46.61" cy="504.40" r="1.80" fill="#0000ff"/>
<circle cx="59.92" cy="500.71" r="1.80" fill="#0000ff"/>
<circle cx="73.24" cy="499.97" r="1.80" fill="#0000ff"/>
<circle cx="86.55" cy="496.66" r="1.80" fill="#0000ff"/>
<circle cx="99.86" cy="492.24" r="1.80" fill="#0000ff"/>
<circle cx="113.18" cy="490.40" r="1.80" fill="#0000ff"/>
<circle cx="126.49" cy="487.45" r="1.80" fill="#0000ff"/>
<circle cx="139.80" cy="481.55" r="1.80" fill="#0000ff"/>
<rect x="31.77" y="508.39" width="3.06" height="3.06" fill="#ff0000"/>
<rect x="45.08" y="505.81" width="3.06" height="3.06" fill="#ff0000"/>
<rect x="58.39" y="501.39" width="3.06" height="3.06" fill="#ff0000"/>
<rect x="71.71" y="498.44" width="3.06" height="3.06" fill="#ff0000"/>
<rect x="85.02" y="491.81" width="3.06" height="3.06" fill="#ff0000"/>
<rect x="98.33" y="486.29" width="3.06" height="3.06" fill="#ff0000"/>
<rect x="111.65" y="477.45" width="3.06" height="3.06" fill="#ff0000"/>
<rect x="124.96" y="466.39" width="3.06" height="3.06" fill="#ff0000"/>
<rect x="138.27" y="435.82" width="3.06" height="3.06" fill="#ff0000"/>
<path d="M30.49,502.55L34.70,500.07L34.70,505.04Z" fill="#000000"/>
<path d="M43.80,499.24L48.02,496.75L48.02,501.72Z" fill="#000000"/>
<path d="M57.12,497.76L61.33,495.28L61.33,500.25Z" fill="#000000"/>
<path d="M70.43,499.24L74.64,496.75L74.64,501.72Z" fill="#000000"/>
<path d="M83.74,487.45L87.95,484.97L87.95,489.93Z" fill="#000000"/>
<path d="M97.05,485.61L101.27,483.12L101.27,488.09Z" fill="#000000"/>
<path d="M110.37,477.87L114.58,475.39L114.58,480.35Z" fill="#000000"/>
<path d="M123.68,462.03L127.89,459.55L127.89,464.51Z" fill="#000000"/>
<path d="M136.99,443.61L141.20,441.13L141.20,446.09Z" fill="#000000"/>
</g>
<rect x="33.3" y="427.4" width="106.50" height="92.10" fill="none" stroke="#3c3c3c" stroke-width="1.2"/>
<line x1="33.30" y1="519.5" x2="33.30" y2="518.2" stroke="#3c3c3c" stroke-width="0.8"/>
<line x1="33.30" y1="427.4" x2="33.30" y2="428.7" stroke="#3c3c3c" stroke-width="0.8"/>
<line x1="46.61" y1="519.5" x2="46.61" y2="518.2" stroke="#3c3c3c" stroke-width="0.8"/>
<line x1="46.61" y1="427.4" x2="46.61" y2="428.7" stroke="#3c3c3c" stroke-width="0.8"/>
<line x1="59.92" y1="519.5" x2="59.92" y2="518.2" stroke="#3c3c3c" stroke-width="0.8"/>
<line x1="59.92" y1="427.4" x2="59.92" y2="428.7" stroke="#3c3c3c" stroke-width="0.8"/>
<line x1="73.24" y1="519.5" x2="73.24" y2="518.2" stroke="#3c3c3c" stroke-width="0.8"/>
<line x1="73.24" y1="427.4" x2="73.24" y2="428.7" stroke="#3c3c3c" stroke-width="0.8"/>
<line x1="86.55" y1="519.5" x2="86.55" y2="518.2" stroke="#3c3c3c" stroke-width="0.8"/>
<line x1="86.55" y1="427.4" x2="86.55" y2="428.7" stroke="#3c3c3c" stroke-width="0.8"/>
<line x1="99.86" y1="519.5" x2="99.86" y2="518.2" stroke="#3c3c3c" stroke-width="0.8"/>
<line x1="99.86" y1="427.4" x2="99.86" y2="428.7" stroke="#3c3c3c" stroke-width="0.8"/>
<line x1="113.18" y1="519.5" x2="113.18" y2="518.2" stroke="#3c3c3c" stroke-width="0.8"/>
<line x1="113.18" y1="427.4" x2="113.18" y2="428.7" stroke="#3c3c3c" stroke-width="0.8"/>
<line x1="126.49" y1="519.5" x2="126.49" y2="518.2" stroke="#3c3c3c" stroke-width="0.8"/>
<line x1="126.49" y1="427.4" x2="126.49" y2="428.7" stroke="#3c3c3c" stroke-width="0.8"/>
<line x1="139.80" y1="519.5" x2="139.80" y2="518.2" stroke="#3c3c3c" stroke-width="0.8"/>
<line x1="139.80" y1="427.4" x2="139.80" y2="428.7" stroke="#3c3c3c" stroke-width="0.8"/>
<line x1="33.3" y1="519.50" x2="34.599999999999994" y2="519.50" stroke="#3c3c3c" stroke-width="0.8"/>
<line x1="139.8" y1="519.50" x2="138.5" y2="519.50" stroke="#3c3c3c" stroke-width="0.8"/>
<line x1="33.3" y1="501.08" x2="34.599999999999994" y2="501.08" stroke="#3c3c3c" stroke-width="0.8"/>
<line x1="139.8" y1="501.08" x2="138.5" y2="501.08" stroke="#3c3c3c" stroke-width="0.8"/>
<line x1="33.3" y1="482.66" x2="34.599999999999994" y2="482.66" stroke="#3c3c3c" stroke-width="0.8"/>
<line x1="139.8" y1="482.66" x2="138.5" y2="482.66" stroke="#3c3c3c" stroke-width="0.8"/>
<line x1="33.3" y1="464.24" x2="34.599999999999994" y2="464.24" stroke="#3c3c3c" stroke-width="0.8"/>
<line x1="139.8" y1="464.24" x2="138.5" y2="464.24" stroke="#3c3c3c" stroke-width="0.8"/>
<line x1="33.3" y1="445.82" x2="34.599999999999994" y2="445.82" stroke="#3c3c3c" stroke-width="0.8"/>
<line x1="139.8" y1="445.82" x2="138.5" y2="445.82" stroke="#3c3c3c" stroke-width="0.8"/>
<line x1="33.3" y1="427.40" x2="34.599999999999994" y2="427.40" stroke="#3c3c3c" stroke-width="0.8"/>
<line x1="139.8" y1="427.40" x2="138.5" y2="427.40" stroke="#3c3c3c" stroke-width="0.8"/>
<text x="30.80" y="522.80" text-anchor="end" font-size="7.7" letter-spacing="-0.15" fill="#161616">10</text>
<text x="30.80" y="504.38" text-anchor="end" font-size="7.7" letter-spacing="-0.15" fill="#161616">15</text>
<text x="30.80" y="485.96" text-anchor="end" font-size="7.7" letter-spacing="-0.15" fill="#161616">20</text>
<text x="30.80" y="467.54" text-anchor="end" font-size="7.7" letter-spacing="-0.15" fill="#161616">25</text>
<text x="30.80" y="449.12" text-anchor="end" font-size="7.7" letter-spacing="-0.15" fill="#161616">30</text>
<text x="30.80" y="430.70" text-anchor="end" font-size="7.7" letter-spacing="-0.15" fill="#161616">35</text>
<text transform="translate(39.10,528.50) rotate(-45)" text-anchor="end" font-size="8.2" fill="#161616">0.2</text>
<text transform="translate(52.41,528.50) rotate(-45)" text-anchor="end" font-size="8.2" fill="#161616">0.3</text>
<text transform="translate(65.72,528.50) rotate(-45)" text-anchor="end" font-size="8.2" fill="#161616">0.4</text>
<text transform="translate(79.04,528.50) rotate(-45)" text-anchor="end" font-size="8.2" fill="#161616">0.5</text>
<text transform="translate(92.35,528.50) rotate(-45)" text-anchor="end" font-size="8.2" fill="#161616">0.6</text>
<text transform="translate(105.66,528.50) rotate(-45)" text-anchor="end" font-size="8.2" fill="#161616">0.7</text>
<text transform="translate(118.98,528.50) rotate(-45)" text-anchor="end" font-size="8.2" fill="#161616">0.8</text>
<text transform="translate(132.29,528.50) rotate(-45)" text-anchor="end" font-size="8.2" fill="#161616">0.9</text>
<text transform="translate(145.60,528.50) rotate(-45)" text-anchor="end" font-size="8.2" fill="#161616">1</text>
<text x="86.55" y="546.40" text-anchor="middle" font-size="8.4" fill="#161616">Sampling ratio</text>
<text transform="translate(18.20,473.45) rotate(-90)" text-anchor="middle" font-size="8.4" fill="#161616">PSNR(dB)</text>
<rect x="165.2" y="427.4" width="105.80" height="92.10" fill="#fff"/>
<line x1="178.42" y1="427.4" x2="178.42" y2="519.5" stroke="#d3d3d3" stroke-width="0.9"/>
<line x1="191.65" y1="427.4" x2="191.65" y2="519.5" stroke="#d3d3d3" stroke-width="0.9"/>
<line x1="204.88" y1="427.4" x2="204.88" y2="519.5" stroke="#d3d3d3" stroke-width="0.9"/>
<line x1="218.10" y1="427.4" x2="218.10" y2="519.5" stroke="#d3d3d3" stroke-width="0.9"/>
<line x1="231.32" y1="427.4" x2="231.32" y2="519.5" stroke="#d3d3d3" stroke-width="0.9"/>
<line x1="244.55" y1="427.4" x2="244.55" y2="519.5" stroke="#d3d3d3" stroke-width="0.9"/>
<line x1="257.77" y1="427.4" x2="257.77" y2="519.5" stroke="#d3d3d3" stroke-width="0.9"/>
<line x1="165.2" y1="501.08" x2="271.0" y2="501.08" stroke="#d3d3d3" stroke-width="0.9"/>
<line x1="165.2" y1="482.66" x2="271.0" y2="482.66" stroke="#d3d3d3" stroke-width="0.9"/>
<line x1="165.2" y1="464.24" x2="271.0" y2="464.24" stroke="#d3d3d3" stroke-width="0.9"/>
<line x1="165.2" y1="445.82" x2="271.0" y2="445.82" stroke="#d3d3d3" stroke-width="0.9"/>
<clipPath id="c165_427"><rect x="162.2" y="424.4" width="111.80" height="98.10"/></clipPath>
<g clip-path="url(#c165_427)">
<polyline points="165.20,502.55 178.42,497.76 191.65,493.44 204.88,489.11 218.10,484.87 231.32,479.16 244.55,475.48 257.77,471.42 271.00,466.27" fill="none" stroke="#0000ff" stroke-width="1.6" stroke-dasharray="1.6 1.1"/>
<polyline points="165.20,505.78 178.42,501.45 191.65,494.91 204.88,489.11 218.10,480.54 231.32,471.42 244.55,464.24 257.77,454.20 271.00,429.24" fill="none" stroke="#ff0000" stroke-width="1.6" stroke-dasharray="1.6 1.1"/>
<polyline points="165.20,497.76 178.42,492.05 191.65,485.79 204.88,481.46 218.10,474.00 231.32,468.57 244.55,462.86 257.77,451.44 271.00,429.24" fill="none" stroke="#000000" stroke-width="1.6" stroke-dasharray="1.6 1.1"/>
<circle cx="165.20" cy="502.55" r="1.80" fill="#0000ff"/>
<circle cx="178.42" cy="497.76" r="1.80" fill="#0000ff"/>
<circle cx="191.65" cy="493.44" r="1.80" fill="#0000ff"/>
<circle cx="204.88" cy="489.11" r="1.80" fill="#0000ff"/>
<circle cx="218.10" cy="484.87" r="1.80" fill="#0000ff"/>
<circle cx="231.32" cy="479.16" r="1.80" fill="#0000ff"/>
<circle cx="244.55" cy="475.48" r="1.80" fill="#0000ff"/>
<circle cx="257.77" cy="471.42" r="1.80" fill="#0000ff"/>
<circle cx="271.00" cy="466.27" r="1.80" fill="#0000ff"/>
<rect x="163.67" y="504.25" width="3.06" height="3.06" fill="#ff0000"/>
<rect x="176.89" y="499.92" width="3.06" height="3.06" fill="#ff0000"/>
<rect x="190.12" y="493.38" width="3.06" height="3.06" fill="#ff0000"/>
<rect x="203.34" y="487.58" width="3.06" height="3.06" fill="#ff0000"/>
<rect x="216.57" y="479.01" width="3.06" height="3.06" fill="#ff0000"/>
<rect x="229.79" y="469.89" width="3.06" height="3.06" fill="#ff0000"/>
<rect x="243.02" y="462.71" width="3.06" height="3.06" fill="#ff0000"/>
<rect x="256.25" y="452.67" width="3.06" height="3.06" fill="#ff0000"/>
<rect x="269.47" y="427.71" width="3.06" height="3.06" fill="#ff0000"/>
<path d="M162.39,497.76L166.60,495.28L166.60,500.25Z" fill="#000000"/>
<path d="M175.62,492.05L179.83,489.57L179.83,494.54Z" fill="#000000"/>
<path d="M188.84,485.79L193.05,483.31L193.05,488.28Z" fill="#000000"/>
<path d="M202.07,481.46L206.28,478.98L206.28,483.95Z" fill="#000000"/>
<path d="M215.29,474.00L219.50,471.52L219.50,476.49Z" fill="#000000"/>
<path d="M228.52,468.57L232.73,466.08L232.73,471.05Z" fill="#000000"/>
<path d="M241.74,462.86L245.95,460.37L245.95,465.34Z" fill="#000000"/>
<path d="M254.97,451.44L259.18,448.95L259.18,453.92Z" fill="#000000"/>
<path d="M268.19,429.24L272.40,426.76L272.40,431.73Z" fill="#000000"/>
</g>
<rect x="165.2" y="427.4" width="105.80" height="92.10" fill="none" stroke="#3c3c3c" stroke-width="1.2"/>
<line x1="165.20" y1="519.5" x2="165.20" y2="518.2" stroke="#3c3c3c" stroke-width="0.8"/>
<line x1="165.20" y1="427.4" x2="165.20" y2="428.7" stroke="#3c3c3c" stroke-width="0.8"/>
<line x1="178.42" y1="519.5" x2="178.42" y2="518.2" stroke="#3c3c3c" stroke-width="0.8"/>
<line x1="178.42" y1="427.4" x2="178.42" y2="428.7" stroke="#3c3c3c" stroke-width="0.8"/>
<line x1="191.65" y1="519.5" x2="191.65" y2="518.2" stroke="#3c3c3c" stroke-width="0.8"/>
<line x1="191.65" y1="427.4" x2="191.65" y2="428.7" stroke="#3c3c3c" stroke-width="0.8"/>
<line x1="204.88" y1="519.5" x2="204.88" y2="518.2" stroke="#3c3c3c" stroke-width="0.8"/>
<line x1="204.88" y1="427.4" x2="204.88" y2="428.7" stroke="#3c3c3c" stroke-width="0.8"/>
<line x1="218.10" y1="519.5" x2="218.10" y2="518.2" stroke="#3c3c3c" stroke-width="0.8"/>
<line x1="218.10" y1="427.4" x2="218.10" y2="428.7" stroke="#3c3c3c" stroke-width="0.8"/>
<line x1="231.32" y1="519.5" x2="231.32" y2="518.2" stroke="#3c3c3c" stroke-width="0.8"/>
<line x1="231.32" y1="427.4" x2="231.32" y2="428.7" stroke="#3c3c3c" stroke-width="0.8"/>
<line x1="244.55" y1="519.5" x2="244.55" y2="518.2" stroke="#3c3c3c" stroke-width="0.8"/>
<line x1="244.55" y1="427.4" x2="244.55" y2="428.7" stroke="#3c3c3c" stroke-width="0.8"/>
<line x1="257.77" y1="519.5" x2="257.77" y2="518.2" stroke="#3c3c3c" stroke-width="0.8"/>
<line x1="257.77" y1="427.4" x2="257.77" y2="428.7" stroke="#3c3c3c" stroke-width="0.8"/>
<line x1="271.00" y1="519.5" x2="271.00" y2="518.2" stroke="#3c3c3c" stroke-width="0.8"/>
<line x1="271.00" y1="427.4" x2="271.00" y2="428.7" stroke="#3c3c3c" stroke-width="0.8"/>
<line x1="165.2" y1="519.50" x2="166.5" y2="519.50" stroke="#3c3c3c" stroke-width="0.8"/>
<line x1="271.0" y1="519.50" x2="269.7" y2="519.50" stroke="#3c3c3c" stroke-width="0.8"/>
<line x1="165.2" y1="501.08" x2="166.5" y2="501.08" stroke="#3c3c3c" stroke-width="0.8"/>
<line x1="271.0" y1="501.08" x2="269.7" y2="501.08" stroke="#3c3c3c" stroke-width="0.8"/>
<line x1="165.2" y1="482.66" x2="166.5" y2="482.66" stroke="#3c3c3c" stroke-width="0.8"/>
<line x1="271.0" y1="482.66" x2="269.7" y2="482.66" stroke="#3c3c3c" stroke-width="0.8"/>
<line x1="165.2" y1="464.24" x2="166.5" y2="464.24" stroke="#3c3c3c" stroke-width="0.8"/>
<line x1="271.0" y1="464.24" x2="269.7" y2="464.24" stroke="#3c3c3c" stroke-width="0.8"/>
<line x1="165.2" y1="445.82" x2="166.5" y2="445.82" stroke="#3c3c3c" stroke-width="0.8"/>
<line x1="271.0" y1="445.82" x2="269.7" y2="445.82" stroke="#3c3c3c" stroke-width="0.8"/>
<line x1="165.2" y1="427.40" x2="166.5" y2="427.40" stroke="#3c3c3c" stroke-width="0.8"/>
<line x1="271.0" y1="427.40" x2="269.7" y2="427.40" stroke="#3c3c3c" stroke-width="0.8"/>
<text x="162.70" y="522.80" text-anchor="end" font-size="7.7" letter-spacing="-0.15" fill="#161616">0</text>
<text x="162.70" y="504.38" text-anchor="end" font-size="7.7" letter-spacing="-0.15" fill="#161616">0.2</text>
<text x="162.70" y="485.96" text-anchor="end" font-size="7.7" letter-spacing="-0.15" fill="#161616">0.4</text>
<text x="162.70" y="467.54" text-anchor="end" font-size="7.7" letter-spacing="-0.15" fill="#161616">0.6</text>
<text x="162.70" y="449.12" text-anchor="end" font-size="7.7" letter-spacing="-0.15" fill="#161616">0.8</text>
<text x="162.70" y="430.70" text-anchor="end" font-size="7.7" letter-spacing="-0.15" fill="#161616">1</text>
<text transform="translate(171.00,528.50) rotate(-45)" text-anchor="end" font-size="8.2" fill="#161616">0.2</text>
<text transform="translate(184.22,528.50) rotate(-45)" text-anchor="end" font-size="8.2" fill="#161616">0.3</text>
<text transform="translate(197.45,528.50) rotate(-45)" text-anchor="end" font-size="8.2" fill="#161616">0.4</text>
<text transform="translate(210.68,528.50) rotate(-45)" text-anchor="end" font-size="8.2" fill="#161616">0.5</text>
<text transform="translate(223.90,528.50) rotate(-45)" text-anchor="end" font-size="8.2" fill="#161616">0.6</text>
<text transform="translate(237.12,528.50) rotate(-45)" text-anchor="end" font-size="8.2" fill="#161616">0.7</text>
<text transform="translate(250.35,528.50) rotate(-45)" text-anchor="end" font-size="8.2" fill="#161616">0.8</text>
<text transform="translate(263.57,528.50) rotate(-45)" text-anchor="end" font-size="8.2" fill="#161616">0.9</text>
<text transform="translate(276.80,528.50) rotate(-45)" text-anchor="end" font-size="8.2" fill="#161616">1</text>
<text x="218.10" y="546.40" text-anchor="middle" font-size="8.4" fill="#161616">Sampling ratio</text>
<text transform="translate(148.70,473.45) rotate(-90)" text-anchor="middle" font-size="8.4" fill="#161616">SSIM</text>
<rect x="302.9" y="427.4" width="106.40" height="92.10" fill="#fff"/>
<line x1="316.20" y1="427.4" x2="316.20" y2="519.5" stroke="#d3d3d3" stroke-width="0.9"/>
<line x1="329.50" y1="427.4" x2="329.50" y2="519.5" stroke="#d3d3d3" stroke-width="0.9"/>
<line x1="342.80" y1="427.4" x2="342.80" y2="519.5" stroke="#d3d3d3" stroke-width="0.9"/>
<line x1="356.10" y1="427.4" x2="356.10" y2="519.5" stroke="#d3d3d3" stroke-width="0.9"/>
<line x1="369.40" y1="427.4" x2="369.40" y2="519.5" stroke="#d3d3d3" stroke-width="0.9"/>
<line x1="382.70" y1="427.4" x2="382.70" y2="519.5" stroke="#d3d3d3" stroke-width="0.9"/>
<line x1="396.00" y1="427.4" x2="396.00" y2="519.5" stroke="#d3d3d3" stroke-width="0.9"/>
<line x1="302.9" y1="488.80" x2="409.3" y2="488.80" stroke="#d3d3d3" stroke-width="0.9"/>
<line x1="302.9" y1="458.10" x2="409.3" y2="458.10" stroke="#d3d3d3" stroke-width="0.9"/>
<clipPath id="c302_427"><rect x="299.9" y="424.4" width="112.40" height="98.10"/></clipPath>
<g clip-path="url(#c302_427)">
<polyline points="302.90,519.81 316.20,519.81 329.50,519.81 342.80,519.81 356.10,519.81 369.40,519.81 382.70,519.81 396.00,519.81 409.30,519.81" fill="none" stroke="#ff0000" stroke-width="1.6" stroke-dasharray="1.6 1.1"/>
<polyline points="302.90,516.43 316.20,512.90 329.50,510.20 342.80,501.60 356.10,495.89 369.40,485.73 382.70,464.85 396.00,440.60 409.30,518.58" fill="none" stroke="#000000" stroke-width="1.6" stroke-dasharray="1.6 1.1"/>
<circle cx="302.90" cy="518.73" r="1.80" fill="#0000ff"/>
<circle cx="316.20" cy="518.73" r="1.80" fill="#0000ff"/>
<circle cx="329.50" cy="518.73" r="1.80" fill="#0000ff"/>
<circle cx="342.80" cy="518.73" r="1.80" fill="#0000ff"/>
<circle cx="356.10" cy="518.73" r="1.80" fill="#0000ff"/>
<circle cx="369.40" cy="518.73" r="1.80" fill="#0000ff"/>
<circle cx="382.70" cy="518.73" r="1.80" fill="#0000ff"/>
<circle cx="396.00" cy="518.73" r="1.80" fill="#0000ff"/>
<circle cx="409.30" cy="518.73" r="1.80" fill="#0000ff"/>
<circle cx="302.90" cy="519.81" r="1.80" fill="#ff0000"/>
<circle cx="316.20" cy="519.81" r="1.80" fill="#ff0000"/>
<circle cx="329.50" cy="519.81" r="1.80" fill="#ff0000"/>
<circle cx="342.80" cy="519.81" r="1.80" fill="#ff0000"/>
<circle cx="356.10" cy="519.81" r="1.80" fill="#ff0000"/>
<circle cx="369.40" cy="519.81" r="1.80" fill="#ff0000"/>
<circle cx="382.70" cy="519.81" r="1.80" fill="#ff0000"/>
<circle cx="396.00" cy="519.81" r="1.80" fill="#ff0000"/>
<circle cx="409.30" cy="519.81" r="1.80" fill="#ff0000"/>
<path d="M300.09,516.43L304.30,513.95L304.30,518.91Z" fill="#000000"/>
<path d="M313.39,512.90L317.60,510.42L317.60,515.38Z" fill="#000000"/>
<path d="M326.69,510.20L330.90,507.71L330.90,512.68Z" fill="#000000"/>
<path d="M339.99,501.60L344.20,499.12L344.20,504.09Z" fill="#000000"/>
<path d="M353.29,495.89L357.50,493.41L357.50,498.38Z" fill="#000000"/>
<path d="M366.59,485.73L370.80,483.25L370.80,488.21Z" fill="#000000"/>
<path d="M379.89,464.85L384.10,462.37L384.10,467.34Z" fill="#000000"/>
<path d="M393.19,440.60L397.40,438.12L397.40,443.08Z" fill="#000000"/>
<path d="M406.49,518.58L410.70,516.09L410.70,521.06Z" fill="#000000"/>
</g>
<rect x="302.9" y="427.4" width="106.40" height="92.10" fill="none" stroke="#3c3c3c" stroke-width="1.2"/>
<line x1="302.90" y1="519.5" x2="302.90" y2="518.2" stroke="#3c3c3c" stroke-width="0.8"/>
<line x1="302.90" y1="427.4" x2="302.90" y2="428.7" stroke="#3c3c3c" stroke-width="0.8"/>
<line x1="316.20" y1="519.5" x2="316.20" y2="518.2" stroke="#3c3c3c" stroke-width="0.8"/>
<line x1="316.20" y1="427.4" x2="316.20" y2="428.7" stroke="#3c3c3c" stroke-width="0.8"/>
<line x1="329.50" y1="519.5" x2="329.50" y2="518.2" stroke="#3c3c3c" stroke-width="0.8"/>
<line x1="329.50" y1="427.4" x2="329.50" y2="428.7" stroke="#3c3c3c" stroke-width="0.8"/>
<line x1="342.80" y1="519.5" x2="342.80" y2="518.2" stroke="#3c3c3c" stroke-width="0.8"/>
<line x1="342.80" y1="427.4" x2="342.80" y2="428.7" stroke="#3c3c3c" stroke-width="0.8"/>
<line x1="356.10" y1="519.5" x2="356.10" y2="518.2" stroke="#3c3c3c" stroke-width="0.8"/>
<line x1="356.10" y1="427.4" x2="356.10" y2="428.7" stroke="#3c3c3c" stroke-width="0.8"/>
<line x1="369.40" y1="519.5" x2="369.40" y2="518.2" stroke="#3c3c3c" stroke-width="0.8"/>
<line x1="369.40" y1="427.4" x2="369.40" y2="428.7" stroke="#3c3c3c" stroke-width="0.8"/>
<line x1="382.70" y1="519.5" x2="382.70" y2="518.2" stroke="#3c3c3c" stroke-width="0.8"/>
<line x1="382.70" y1="427.4" x2="382.70" y2="428.7" stroke="#3c3c3c" stroke-width="0.8"/>
<line x1="396.00" y1="519.5" x2="396.00" y2="518.2" stroke="#3c3c3c" stroke-width="0.8"/>
<line x1="396.00" y1="427.4" x2="396.00" y2="428.7" stroke="#3c3c3c" stroke-width="0.8"/>
<line x1="409.30" y1="519.5" x2="409.30" y2="518.2" stroke="#3c3c3c" stroke-width="0.8"/>
<line x1="409.30" y1="427.4" x2="409.30" y2="428.7" stroke="#3c3c3c" stroke-width="0.8"/>
<line x1="302.9" y1="519.50" x2="304.2" y2="519.50" stroke="#3c3c3c" stroke-width="0.8"/>
<line x1="409.3" y1="519.50" x2="408.0" y2="519.50" stroke="#3c3c3c" stroke-width="0.8"/>
<line x1="302.9" y1="488.80" x2="304.2" y2="488.80" stroke="#3c3c3c" stroke-width="0.8"/>
<line x1="409.3" y1="488.80" x2="408.0" y2="488.80" stroke="#3c3c3c" stroke-width="0.8"/>
<line x1="302.9" y1="458.10" x2="304.2" y2="458.10" stroke="#3c3c3c" stroke-width="0.8"/>
<line x1="409.3" y1="458.10" x2="408.0" y2="458.10" stroke="#3c3c3c" stroke-width="0.8"/>
<line x1="302.9" y1="427.40" x2="304.2" y2="427.40" stroke="#3c3c3c" stroke-width="0.8"/>
<line x1="409.3" y1="427.40" x2="408.0" y2="427.40" stroke="#3c3c3c" stroke-width="0.8"/>
<text x="300.40" y="522.80" text-anchor="end" font-size="7.7" letter-spacing="-0.15" fill="#161616">0</text>
<text x="300.40" y="492.10" text-anchor="end" font-size="7.7" letter-spacing="-0.15" fill="#161616">1000</text>
<text x="300.40" y="461.40" text-anchor="end" font-size="7.7" letter-spacing="-0.15" fill="#161616">2000</text>
<text x="300.40" y="430.70" text-anchor="end" font-size="7.7" letter-spacing="-0.15" fill="#161616">3000</text>
<text transform="translate(308.70,528.50) rotate(-45)" text-anchor="end" font-size="8.2" fill="#161616">0.2</text>
<text transform="translate(322.00,528.50) rotate(-45)" text-anchor="end" font-size="8.2" fill="#161616">0.3</text>
<text transform="translate(335.30,528.50) rotate(-45)" text-anchor="end" font-size="8.2" fill="#161616">0.4</text>
<text transform="translate(348.60,528.50) rotate(-45)" text-anchor="end" font-size="8.2" fill="#161616">0.5</text>
<text transform="translate(361.90,528.50) rotate(-45)" text-anchor="end" font-size="8.2" fill="#161616">0.6</text>
<text transform="translate(375.20,528.50) rotate(-45)" text-anchor="end" font-size="8.2" fill="#161616">0.7</text>
<text transform="translate(388.50,528.50) rotate(-45)" text-anchor="end" font-size="8.2" fill="#161616">0.8</text>
<text transform="translate(401.80,528.50) rotate(-45)" text-anchor="end" font-size="8.2" fill="#161616">0.9</text>
<text transform="translate(415.10,528.50) rotate(-45)" text-anchor="end" font-size="8.2" fill="#161616">1</text>
<text x="356.10" y="546.40" text-anchor="middle" font-size="8.4" fill="#161616">Sampling ratio</text>
<text transform="translate(280.50,473.45) rotate(-90)" text-anchor="middle" font-size="8.4" fill="#161616">Running time(S)</text>
<rect x="171.3" y="413.2" width="92.90" height="10.70" fill="#fff" stroke="#3c3c3c" stroke-width="0.9"/>
<line x1="172.8" y1="418.55" x2="184.3" y2="418.55" stroke="#0000ff" stroke-width="1.5" stroke-dasharray="1.5 1.4"/>
<circle cx="180.00" cy="418.55" r="1.80" fill="#0000ff"/>
<text x="186.8" y="421.35" font-size="7.8" fill="#1a1a1a">BCS</text>
<line x1="205.0" y1="418.55" x2="217.0" y2="418.55" stroke="#ff0000" stroke-width="1.5" stroke-dasharray="1.5 1.4"/>
<rect x="211.97" y="417.02" width="3.06" height="3.06" fill="#ff0000"/>
<text x="219.7" y="421.35" font-size="7.8" fill="#1a1a1a">SB</text>
<line x1="231.7" y1="418.55" x2="244.0" y2="418.55" stroke="#000000" stroke-width="1.5" stroke-dasharray="1.5 1.4"/>
<path d="M236.19,418.55L240.40,416.07L240.40,421.03Z" fill="#000000"/>
<text x="246.7" y="421.35" font-size="7.8" fill="#1a1a1a">IRLS</text>
<rect x="307" y="293.5" width="73.00" height="67.50" fill="#fff"/>
<line x1="322.31" y1="296.4" x2="322.31" y2="354.6" stroke="#e6e6e6" stroke-width="0.5"/>
<line x1="330.12" y1="296.4" x2="330.12" y2="354.6" stroke="#e6e6e6" stroke-width="0.5"/>
<line x1="337.94" y1="296.4" x2="337.94" y2="354.6" stroke="#e6e6e6" stroke-width="0.5"/>
<line x1="345.75" y1="296.4" x2="345.75" y2="354.6" stroke="#e6e6e6" stroke-width="0.5"/>
<line x1="353.56" y1="296.4" x2="353.56" y2="354.6" stroke="#e6e6e6" stroke-width="0.5"/>
<line x1="361.38" y1="296.4" x2="361.38" y2="354.6" stroke="#e6e6e6" stroke-width="0.5"/>
<line x1="369.19" y1="296.4" x2="369.19" y2="354.6" stroke="#e6e6e6" stroke-width="0.5"/>
<line x1="314.5" y1="342.96" x2="377.0" y2="342.96" stroke="#e6e6e6" stroke-width="0.5"/>
<line x1="314.5" y1="331.32" x2="377.0" y2="331.32" stroke="#e6e6e6" stroke-width="0.5"/>
<line x1="314.5" y1="319.68" x2="377.0" y2="319.68" stroke="#e6e6e6" stroke-width="0.5"/>
<line x1="314.5" y1="308.04" x2="377.0" y2="308.04" stroke="#e6e6e6" stroke-width="0.5"/>
<polyline points="314.50,339.82 322.31,334.81 330.12,330.74 337.94,326.08 345.75,322.88 353.56,318.52 361.38,315.61 369.19,316.19 377.00,330.45" fill="none" stroke="#3a3aff" stroke-width="0.85"/>
<circle cx="314.50" cy="339.82" r="0.9" fill="#3a3aff"/>
<circle cx="322.31" cy="334.81" r="0.9" fill="#3a3aff"/>
<circle cx="330.12" cy="330.74" r="0.9" fill="#3a3aff"/>
<circle cx="337.94" cy="326.08" r="0.9" fill="#3a3aff"/>
<circle cx="345.75" cy="322.88" r="0.9" fill="#3a3aff"/>
<circle cx="353.56" cy="318.52" r="0.9" fill="#3a3aff"/>
<circle cx="361.38" cy="315.61" r="0.9" fill="#3a3aff"/>
<circle cx="369.19" cy="316.19" r="0.9" fill="#3a3aff"/>
<circle cx="377.00" cy="330.45" r="0.9" fill="#3a3aff"/>
<path d="M314.5,296.4H377.0V354.6" fill="none" stroke="#6f6f6f" stroke-width="0.75"/>
<path d="M314.5,296.4V354.6H377.0" fill="none" stroke="#262626" stroke-width="0.9"/>
<line x1="314.50" y1="354.6" x2="314.50" y2="353.8" stroke="#555" stroke-width="0.5"/>
<line x1="314.50" y1="296.4" x2="314.50" y2="297.2" stroke="#555" stroke-width="0.5"/>
<text x="314.50" y="360.00" text-anchor="middle" font-size="4.3" fill="#333">0.2</text>
<line x1="322.31" y1="354.6" x2="322.31" y2="353.8" stroke="#555" stroke-width="0.5"/>
<line x1="322.31" y1="296.4" x2="322.31" y2="297.2" stroke="#555" stroke-width="0.5"/>
<text x="322.31" y="360.00" text-anchor="middle" font-size="4.3" fill="#333">0.3</text>
<line x1="330.12" y1="354.6" x2="330.12" y2="353.8" stroke="#555" stroke-width="0.5"/>
<line x1="330.12" y1="296.4" x2="330.12" y2="297.2" stroke="#555" stroke-width="0.5"/>
<text x="330.12" y="360.00" text-anchor="middle" font-size="4.3" fill="#333">0.4</text>
<line x1="337.94" y1="354.6" x2="337.94" y2="353.8" stroke="#555" stroke-width="0.5"/>
<line x1="337.94" y1="296.4" x2="337.94" y2="297.2" stroke="#555" stroke-width="0.5"/>
<text x="337.94" y="360.00" text-anchor="middle" font-size="4.3" fill="#333">0.5</text>
<line x1="345.75" y1="354.6" x2="345.75" y2="353.8" stroke="#555" stroke-width="0.5"/>
<line x1="345.75" y1="296.4" x2="345.75" y2="297.2" stroke="#555" stroke-width="0.5"/>
<text x="345.75" y="360.00" text-anchor="middle" font-size="4.3" fill="#333">0.6</text>
<line x1="353.56" y1="354.6" x2="353.56" y2="353.8" stroke="#555" stroke-width="0.5"/>
<line x1="353.56" y1="296.4" x2="353.56" y2="297.2" stroke="#555" stroke-width="0.5"/>
<text x="353.56" y="360.00" text-anchor="middle" font-size="4.3" fill="#333">0.7</text>
<line x1="361.38" y1="354.6" x2="361.38" y2="353.8" stroke="#555" stroke-width="0.5"/>
<line x1="361.38" y1="296.4" x2="361.38" y2="297.2" stroke="#555" stroke-width="0.5"/>
<text x="361.38" y="360.00" text-anchor="middle" font-size="4.3" fill="#333">0.8</text>
<line x1="369.19" y1="354.6" x2="369.19" y2="353.8" stroke="#555" stroke-width="0.5"/>
<line x1="369.19" y1="296.4" x2="369.19" y2="297.2" stroke="#555" stroke-width="0.5"/>
<text x="369.19" y="360.00" text-anchor="middle" font-size="4.3" fill="#333">0.9</text>
<line x1="377.00" y1="354.6" x2="377.00" y2="353.8" stroke="#555" stroke-width="0.5"/>
<line x1="377.00" y1="296.4" x2="377.00" y2="297.2" stroke="#555" stroke-width="0.5"/>
<text x="377.00" y="360.00" text-anchor="middle" font-size="4.3" fill="#333">1</text>
<text x="313.30" y="355.80" text-anchor="end" font-size="4.3" fill="#333">0</text>
<text x="313.30" y="344.16" text-anchor="end" font-size="4.3" fill="#333">0.2</text>
<text x="313.30" y="332.52" text-anchor="end" font-size="4.3" fill="#333">0.4</text>
<text x="313.30" y="320.88" text-anchor="end" font-size="4.3" fill="#333">0.6</text>
<text x="313.30" y="309.24" text-anchor="end" font-size="4.3" fill="#333">0.8</text>
<text x="313.30" y="297.60" text-anchor="end" font-size="4.3" fill="#333">1</text>
<rect x="303.0" y="380.6" width="108.8" height="7.1" fill="#fff" stroke="#14b414" stroke-width="1.6"/>
<clipPath id="r302_292"><rect x="303.8" y="381.3" width="107.30" height="6.20"/></clipPath>
<g clip-path="url(#r302_292)">
<polyline points="302.90,407.42 316.39,407.42 329.88,407.42 343.36,407.42 356.85,407.42 370.34,407.42 383.83,407.42 397.31,407.42 410.80,407.42" fill="none" stroke="#0000ff" stroke-width="1.6" stroke-dasharray="1.6 1.1"/>
<polyline points="302.90,332.82 316.39,332.82 329.88,332.82 343.36,332.82 356.85,332.82 370.34,332.82 383.83,323.71 397.31,295.98 410.80,337.89" fill="none" stroke="#ff0000" stroke-width="1.6" stroke-dasharray="1.6 1.1"/>
<polyline points="302.90,384.26 316.39,384.26 329.88,384.26 343.36,384.26 356.85,384.26 370.34,384.26 383.83,384.26 397.31,384.26 410.80,384.26" fill="none" stroke="#000000" stroke-width="1.6" stroke-dasharray="1.6 1.1"/>
<circle cx="302.90" cy="407.42" r="1.80" fill="#0000ff"/>
<circle cx="316.39" cy="407.42" r="1.80" fill="#0000ff"/>
<circle cx="329.88" cy="407.42" r="1.80" fill="#0000ff"/>
<circle cx="343.36" cy="407.42" r="1.80" fill="#0000ff"/>
<circle cx="356.85" cy="407.42" r="1.80" fill="#0000ff"/>
<circle cx="370.34" cy="407.42" r="1.80" fill="#0000ff"/>
<circle cx="383.83" cy="407.42" r="1.80" fill="#0000ff"/>
<circle cx="397.31" cy="407.42" r="1.80" fill="#0000ff"/>
<circle cx="410.80" cy="407.42" r="1.80" fill="#0000ff"/>
<rect x="301.37" y="331.29" width="3.06" height="3.06" fill="#ff0000"/>
<rect x="314.86" y="331.29" width="3.06" height="3.06" fill="#ff0000"/>
<rect x="328.35" y="331.29" width="3.06" height="3.06" fill="#ff0000"/>
<rect x="341.83" y="331.29" width="3.06" height="3.06" fill="#ff0000"/>
<rect x="355.32" y="331.29" width="3.06" height="3.06" fill="#ff0000"/>
<rect x="368.81" y="331.29" width="3.06" height="3.06" fill="#ff0000"/>
<rect x="382.30" y="322.18" width="3.06" height="3.06" fill="#ff0000"/>
<rect x="395.78" y="294.45" width="3.06" height="3.06" fill="#ff0000"/>
<rect x="409.27" y="336.36" width="3.06" height="3.06" fill="#ff0000"/>
<path d="M300.17,384.26L304.26,381.85L304.26,386.68Z" fill="#000000"/>
<path d="M313.66,384.26L317.75,381.85L317.75,386.68Z" fill="#000000"/>
<path d="M327.14,384.26L331.24,381.85L331.24,386.68Z" fill="#000000"/>
<path d="M340.63,384.26L344.73,381.85L344.73,386.68Z" fill="#000000"/>
<path d="M354.12,384.26L358.21,381.85L358.21,386.68Z" fill="#000000"/>
<path d="M367.61,384.26L371.70,381.85L371.70,386.68Z" fill="#000000"/>
<path d="M381.10,384.26L385.19,381.85L385.19,386.68Z" fill="#000000"/>
<path d="M394.58,384.26L398.68,381.85L398.68,386.68Z" fill="#000000"/>
<path d="M408.07,384.26L412.17,381.85L412.17,386.68Z" fill="#000000"/>
</g>
<line x1="360.00" y1="379.50" x2="348.82" y2="365.53" stroke="#22bb22" stroke-width="1.25" stroke-dasharray="5.5 3"/>
<path d="M345.20,361.00L351.09,363.72L348.07,364.59L346.56,367.34Z" fill="#22bb22"/>
<rect x="304.5" y="428.5" width="74.00" height="66.50" fill="#fff"/>
<line x1="319.40" y1="430.9" x2="319.40" y2="489.4" stroke="#e6e6e6" stroke-width="0.5"/>
<line x1="327.40" y1="430.9" x2="327.40" y2="489.4" stroke="#e6e6e6" stroke-width="0.5"/>
<line x1="335.40" y1="430.9" x2="335.40" y2="489.4" stroke="#e6e6e6" stroke-width="0.5"/>
<line x1="343.40" y1="430.9" x2="343.40" y2="489.4" stroke="#e6e6e6" stroke-width="0.5"/>
<line x1="351.40" y1="430.9" x2="351.40" y2="489.4" stroke="#e6e6e6" stroke-width="0.5"/>
<line x1="359.40" y1="430.9" x2="359.40" y2="489.4" stroke="#e6e6e6" stroke-width="0.5"/>
<line x1="367.40" y1="430.9" x2="367.40" y2="489.4" stroke="#e6e6e6" stroke-width="0.5"/>
<line x1="311.4" y1="477.70" x2="375.4" y2="477.70" stroke="#e6e6e6" stroke-width="0.5"/>
<line x1="311.4" y1="466.00" x2="375.4" y2="466.00" stroke="#e6e6e6" stroke-width="0.5"/>
<line x1="311.4" y1="454.30" x2="375.4" y2="454.30" stroke="#e6e6e6" stroke-width="0.5"/>
<line x1="311.4" y1="442.60" x2="375.4" y2="442.60" stroke="#e6e6e6" stroke-width="0.5"/>
<polyline points="311.40,474.19 319.40,475.36 327.40,478.87 335.40,473.21 343.40,472.24 351.40,476.14 359.40,475.94 367.40,478.48 375.40,476.53" fill="none" stroke="#ff4a4a" stroke-width="0.85"/>
<circle cx="311.40" cy="474.19" r="0.9" fill="#ff4a4a"/>
<circle cx="319.40" cy="475.36" r="0.9" fill="#ff4a4a"/>
<circle cx="327.40" cy="478.87" r="0.9" fill="#ff4a4a"/>
<circle cx="335.40" cy="473.21" r="0.9" fill="#ff4a4a"/>
<circle cx="343.40" cy="472.24" r="0.9" fill="#ff4a4a"/>
<circle cx="351.40" cy="476.14" r="0.9" fill="#ff4a4a"/>
<circle cx="359.40" cy="475.94" r="0.9" fill="#ff4a4a"/>
<circle cx="367.40" cy="478.48" r="0.9" fill="#ff4a4a"/>
<circle cx="375.40" cy="476.53" r="0.9" fill="#ff4a4a"/>
<polyline points="311.40,482.19 319.40,476.92 327.40,470.48 335.40,465.22 343.40,449.81 351.40,457.42 359.40,463.27 367.40,469.90 375.40,468.14" fill="none" stroke="#3a3aff" stroke-width="0.85"/>
<circle cx="311.40" cy="482.19" r="0.9" fill="#3a3aff"/>
<circle cx="319.40" cy="476.92" r="0.9" fill="#3a3aff"/>
<circle cx="327.40" cy="470.48" r="0.9" fill="#3a3aff"/>
<circle cx="335.40" cy="465.22" r="0.9" fill="#3a3aff"/>
<circle cx="343.40" cy="449.81" r="0.9" fill="#3a3aff"/>
<circle cx="351.40" cy="457.42" r="0.9" fill="#3a3aff"/>
<circle cx="359.40" cy="463.27" r="0.9" fill="#3a3aff"/>
<circle cx="367.40" cy="469.90" r="0.9" fill="#3a3aff"/>
<circle cx="375.40" cy="468.14" r="0.9" fill="#3a3aff"/>
<path d="M311.4,430.9H375.4V489.4" fill="none" stroke="#6f6f6f" stroke-width="0.75"/>
<path d="M311.4,430.9V489.4H375.4" fill="none" stroke="#262626" stroke-width="0.9"/>
<line x1="311.40" y1="489.4" x2="311.40" y2="488.59999999999997" stroke="#555" stroke-width="0.5"/>
<line x1="311.40" y1="430.9" x2="311.40" y2="431.7" stroke="#555" stroke-width="0.5"/>
<text x="311.40" y="494.80" text-anchor="middle" font-size="4.3" fill="#333">0.2</text>
<line x1="319.40" y1="489.4" x2="319.40" y2="488.59999999999997" stroke="#555" stroke-width="0.5"/>
<line x1="319.40" y1="430.9" x2="319.40" y2="431.7" stroke="#555" stroke-width="0.5"/>
<text x="319.40" y="494.80" text-anchor="middle" font-size="4.3" fill="#333">0.3</text>
<line x1="327.40" y1="489.4" x2="327.40" y2="488.59999999999997" stroke="#555" stroke-width="0.5"/>
<line x1="327.40" y1="430.9" x2="327.40" y2="431.7" stroke="#555" stroke-width="0.5"/>
<text x="327.40" y="494.80" text-anchor="middle" font-size="4.3" fill="#333">0.4</text>
<line x1="335.40" y1="489.4" x2="335.40" y2="488.59999999999997" stroke="#555" stroke-width="0.5"/>
<line x1="335.40" y1="430.9" x2="335.40" y2="431.7" stroke="#555" stroke-width="0.5"/>
<text x="335.40" y="494.80" text-anchor="middle" font-size="4.3" fill="#333">0.5</text>
<line x1="343.40" y1="489.4" x2="343.40" y2="488.59999999999997" stroke="#555" stroke-width="0.5"/>
<line x1="343.40" y1="430.9" x2="343.40" y2="431.7" stroke="#555" stroke-width="0.5"/>
<text x="343.40" y="494.80" text-anchor="middle" font-size="4.3" fill="#333">0.6</text>
<line x1="351.40" y1="489.4" x2="351.40" y2="488.59999999999997" stroke="#555" stroke-width="0.5"/>
<line x1="351.40" y1="430.9" x2="351.40" y2="431.7" stroke="#555" stroke-width="0.5"/>
<text x="351.40" y="494.80" text-anchor="middle" font-size="4.3" fill="#333">0.7</text>
<line x1="359.40" y1="489.4" x2="359.40" y2="488.59999999999997" stroke="#555" stroke-width="0.5"/>
<line x1="359.40" y1="430.9" x2="359.40" y2="431.7" stroke="#555" stroke-width="0.5"/>
<text x="359.40" y="494.80" text-anchor="middle" font-size="4.3" fill="#333">0.8</text>
<line x1="367.40" y1="489.4" x2="367.40" y2="488.59999999999997" stroke="#555" stroke-width="0.5"/>
<line x1="367.40" y1="430.9" x2="367.40" y2="431.7" stroke="#555" stroke-width="0.5"/>
<text x="367.40" y="494.80" text-anchor="middle" font-size="4.3" fill="#333">0.9</text>
<line x1="375.40" y1="489.4" x2="375.40" y2="488.59999999999997" stroke="#555" stroke-width="0.5"/>
<line x1="375.40" y1="430.9" x2="375.40" y2="431.7" stroke="#555" stroke-width="0.5"/>
<text x="375.40" y="494.80" text-anchor="middle" font-size="4.3" fill="#333">1</text>
<text x="310.20" y="490.60" text-anchor="end" font-size="4.3" fill="#333">0</text>
<text x="310.20" y="478.90" text-anchor="end" font-size="4.3" fill="#333">3</text>
<text x="310.20" y="467.20" text-anchor="end" font-size="4.3" fill="#333">6</text>
<text x="310.20" y="455.50" text-anchor="end" font-size="4.3" fill="#333">9</text>
<text x="310.20" y="443.80" text-anchor="end" font-size="4.3" fill="#333">12</text>
<text x="310.20" y="432.10" text-anchor="end" font-size="4.3" fill="#333">15</text>
<rect x="302.4" y="516.0" width="109.3" height="7.3" fill="#fff" stroke="#14b414" stroke-width="1.6"/>
<clipPath id="r302_427"><rect x="303.2" y="516.7" width="107.80" height="5.90"/></clipPath>
<g clip-path="url(#r302_427)">
<polyline points="302.90,519.81 316.20,519.81 329.50,519.81 342.80,519.81 356.10,519.81 369.40,519.81 382.70,519.81 396.00,519.81 409.30,519.81" fill="none" stroke="#ff0000" stroke-width="1.6" stroke-dasharray="1.6 1.1"/>
<polyline points="302.90,516.43 316.20,512.90 329.50,510.20 342.80,501.60 356.10,495.89 369.40,485.73 382.70,464.85 396.00,440.60 409.30,518.58" fill="none" stroke="#000000" stroke-width="1.6" stroke-dasharray="1.6 1.1"/>
<circle cx="302.90" cy="518.73" r="1.80" fill="#0000ff"/>
<circle cx="316.20" cy="518.73" r="1.80" fill="#0000ff"/>
<circle cx="329.50" cy="518.73" r="1.80" fill="#0000ff"/>
<circle cx="342.80" cy="518.73" r="1.80" fill="#0000ff"/>
<circle cx="356.10" cy="518.73" r="1.80" fill="#0000ff"/>
<circle cx="369.40" cy="518.73" r="1.80" fill="#0000ff"/>
<circle cx="382.70" cy="518.73" r="1.80" fill="#0000ff"/>
<circle cx="396.00" cy="518.73" r="1.80" fill="#0000ff"/>
<circle cx="409.30" cy="518.73" r="1.80" fill="#0000ff"/>
<circle cx="302.90" cy="519.81" r="1.80" fill="#ff0000"/>
<circle cx="316.20" cy="519.81" r="1.80" fill="#ff0000"/>
<circle cx="329.50" cy="519.81" r="1.80" fill="#ff0000"/>
<circle cx="342.80" cy="519.81" r="1.80" fill="#ff0000"/>
<circle cx="356.10" cy="519.81" r="1.80" fill="#ff0000"/>
<circle cx="369.40" cy="519.81" r="1.80" fill="#ff0000"/>
<circle cx="382.70" cy="519.81" r="1.80" fill="#ff0000"/>
<circle cx="396.00" cy="519.81" r="1.80" fill="#ff0000"/>
<circle cx="409.30" cy="519.81" r="1.80" fill="#ff0000"/>
<path d="M300.09,516.43L304.30,513.95L304.30,518.91Z" fill="#000000"/>
<path d="M313.39,512.90L317.60,510.42L317.60,515.38Z" fill="#000000"/>
<path d="M326.69,510.20L330.90,507.71L330.90,512.68Z" fill="#000000"/>
<path d="M339.99,501.60L344.20,499.12L344.20,504.09Z" fill="#000000"/>
<path d="M353.29,495.89L357.50,493.41L357.50,498.38Z" fill="#000000"/>
<path d="M366.59,485.73L370.80,483.25L370.80,488.21Z" fill="#000000"/>
<path d="M379.89,464.85L384.10,462.37L384.10,467.34Z" fill="#000000"/>
<path d="M393.19,440.60L397.40,438.12L397.40,443.08Z" fill="#000000"/>
<path d="M406.49,518.58L410.70,516.09L410.70,521.06Z" fill="#000000"/>
</g>
<line x1="352.60" y1="509.80" x2="339.50" y2="499.16" stroke="#22bb22" stroke-width="1.25" stroke-dasharray="5.5 3"/>
<path d="M335.00,495.50L341.33,496.91L338.57,498.40L337.67,501.41Z" fill="#22bb22"/>
<clipPath id="r302_427b"><rect x="325" y="495.2" width="40.00" height="19.30"/></clipPath>
<g clip-path="url(#r302_427b)">
<polyline points="302.90,519.81 316.20,519.81 329.50,519.81 342.80,519.81 356.10,519.81 369.40,519.81 382.70,519.81 396.00,519.81 409.30,519.81" fill="none" stroke="#ff0000" stroke-width="1.6" stroke-dasharray="1.6 1.1"/>
<polyline points="302.90,516.43 316.20,512.90 329.50,510.20 342.80,501.60 356.10,495.89 369.40,485.73 382.70,464.85 396.00,440.60 409.30,518.58" fill="none" stroke="#000000" stroke-width="1.6" stroke-dasharray="1.6 1.1"/>
<circle cx="302.90" cy="518.73" r="1.80" fill="#0000ff"/>
<circle cx="316.20" cy="518.73" r="1.80" fill="#0000ff"/>
<circle cx="329.50" cy="518.73" r="1.80" fill="#0000ff"/>
<circle cx="342.80" cy="518.73" r="1.80" fill="#0000ff"/>
<circle cx="356.10" cy="518.73" r="1.80" fill="#0000ff"/>
<circle cx="369.40" cy="518.73" r="1.80" fill="#0000ff"/>
<circle cx="382.70" cy="518.73" r="1.80" fill="#0000ff"/>
<circle cx="396.00" cy="518.73" r="1.80" fill="#0000ff"/>
<circle cx="409.30" cy="518.73" r="1.80" fill="#0000ff"/>
<circle cx="302.90" cy="519.81" r="1.80" fill="#ff0000"/>
<circle cx="316.20" cy="519.81" r="1.80" fill="#ff0000"/>
<circle cx="329.50" cy="519.81" r="1.80" fill="#ff0000"/>
<circle cx="342.80" cy="519.81" r="1.80" fill="#ff0000"/>
<circle cx="356.10" cy="519.81" r="1.80" fill="#ff0000"/>
<circle cx="369.40" cy="519.81" r="1.80" fill="#ff0000"/>
<circle cx="382.70" cy="519.81" r="1.80" fill="#ff0000"/>
<circle cx="396.00" cy="519.81" r="1.80" fill="#ff0000"/>
<circle cx="409.30" cy="519.81" r="1.80" fill="#ff0000"/>
<path d="M300.09,516.43L304.30,513.95L304.30,518.91Z" fill="#000000"/>
<path d="M313.39,512.90L317.60,510.42L317.60,515.38Z" fill="#000000"/>
<path d="M326.69,510.20L330.90,507.71L330.90,512.68Z" fill="#000000"/>
<path d="M339.99,501.60L344.20,499.12L344.20,504.09Z" fill="#000000"/>
<path d="M353.29,495.89L357.50,493.41L357.50,498.38Z" fill="#000000"/>
<path d="M366.59,485.73L370.80,483.25L370.80,488.21Z" fill="#000000"/>
<path d="M379.89,464.85L384.10,462.37L384.10,467.34Z" fill="#000000"/>
<path d="M393.19,440.60L397.40,438.12L397.40,443.08Z" fill="#000000"/>
<path d="M406.49,518.58L410.70,516.09L410.70,521.06Z" fill="#000000"/>
</g>
</svg></body></html>
